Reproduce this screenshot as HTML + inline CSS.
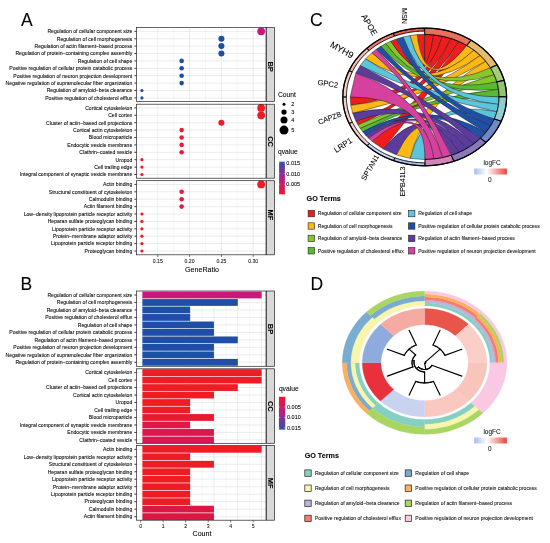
<!DOCTYPE html>
<html><head><meta charset="utf-8"><title>GO enrichment figure</title>
<style>html,body{margin:0;padding:0;background:#fff}svg{display:block}text{font-family:'Liberation Sans', sans-serif;stroke:#000;stroke-width:0.12px;stroke-opacity:0.6}</style></head>
<body><svg width="550" height="543" viewBox="0 0 550 543">
<rect width="550" height="543" fill="#fff"/>
<text x="20.90" y="25.90" font-size="17.5" text-anchor="start" font-weight="normal" fill="#000">A</text>
<text x="20.40" y="289.70" font-size="17.5" text-anchor="start" font-weight="normal" fill="#000">B</text>
<text x="309.90" y="26.00" font-size="17.5" text-anchor="start" font-weight="normal" fill="#000">C</text>
<text x="310.40" y="289.70" font-size="17.5" text-anchor="start" font-weight="normal" fill="#000">D</text>
<rect x="136.4" y="27.6" width="129.6" height="74.0" fill="#fff"/>
<line x1="141.90" y1="27.6" x2="141.90" y2="101.6" stroke="#ECECEC" stroke-width="0.4"/>
<line x1="157.80" y1="27.6" x2="157.80" y2="101.6" stroke="#DFDFDF" stroke-width="0.6"/>
<line x1="173.70" y1="27.6" x2="173.70" y2="101.6" stroke="#ECECEC" stroke-width="0.4"/>
<line x1="189.60" y1="27.6" x2="189.60" y2="101.6" stroke="#DFDFDF" stroke-width="0.6"/>
<line x1="205.50" y1="27.6" x2="205.50" y2="101.6" stroke="#ECECEC" stroke-width="0.4"/>
<line x1="221.40" y1="27.6" x2="221.40" y2="101.6" stroke="#DFDFDF" stroke-width="0.6"/>
<line x1="237.30" y1="27.6" x2="237.30" y2="101.6" stroke="#ECECEC" stroke-width="0.4"/>
<line x1="253.20" y1="27.6" x2="253.20" y2="101.6" stroke="#DFDFDF" stroke-width="0.6"/>
<line x1="136.4" y1="31.30" x2="266.0" y2="31.30" stroke="#DFDFDF" stroke-width="0.6"/>
<line x1="134.4" y1="31.30" x2="136.4" y2="31.30" stroke="#111" stroke-width="0.85"/>
<text x="132.30" y="33.10" font-size="5.12" text-anchor="end" font-weight="normal" fill="#000">Regulation of cellular component size</text>
<circle cx="261.15" cy="31.30" r="3.9" fill="#C9177E"/>
<line x1="136.4" y1="38.70" x2="266.0" y2="38.70" stroke="#DFDFDF" stroke-width="0.6"/>
<line x1="134.4" y1="38.70" x2="136.4" y2="38.70" stroke="#111" stroke-width="0.85"/>
<text x="132.30" y="40.50" font-size="5.12" text-anchor="end" font-weight="normal" fill="#000">Regulation of cell morphogenesis</text>
<circle cx="221.40" cy="38.70" r="3.05" fill="#1F4EA6"/>
<line x1="136.4" y1="46.10" x2="266.0" y2="46.10" stroke="#DFDFDF" stroke-width="0.6"/>
<line x1="134.4" y1="46.10" x2="136.4" y2="46.10" stroke="#111" stroke-width="0.85"/>
<text x="132.30" y="47.90" font-size="5.12" text-anchor="end" font-weight="normal" fill="#000">Regulation of actin filament−based process</text>
<circle cx="221.40" cy="46.10" r="3.05" fill="#1F4EA6"/>
<line x1="136.4" y1="53.50" x2="266.0" y2="53.50" stroke="#DFDFDF" stroke-width="0.6"/>
<line x1="134.4" y1="53.50" x2="136.4" y2="53.50" stroke="#111" stroke-width="0.85"/>
<text x="132.30" y="55.30" font-size="5.12" text-anchor="end" font-weight="normal" fill="#000">Regulation of protein−containing complex assembly</text>
<circle cx="221.40" cy="53.50" r="3.05" fill="#1F4EA6"/>
<line x1="136.4" y1="60.90" x2="266.0" y2="60.90" stroke="#DFDFDF" stroke-width="0.6"/>
<line x1="134.4" y1="60.90" x2="136.4" y2="60.90" stroke="#111" stroke-width="0.85"/>
<text x="132.30" y="62.70" font-size="5.12" text-anchor="end" font-weight="normal" fill="#000">Regulation of cell shape</text>
<circle cx="181.65" cy="60.90" r="2.3" fill="#1F4EA6"/>
<line x1="136.4" y1="68.30" x2="266.0" y2="68.30" stroke="#DFDFDF" stroke-width="0.6"/>
<line x1="134.4" y1="68.30" x2="136.4" y2="68.30" stroke="#111" stroke-width="0.85"/>
<text x="132.30" y="70.10" font-size="5.12" text-anchor="end" font-weight="normal" fill="#000">Positive regulation of cellular protein catabolic process</text>
<circle cx="181.65" cy="68.30" r="2.3" fill="#1F4EA6"/>
<line x1="136.4" y1="75.70" x2="266.0" y2="75.70" stroke="#DFDFDF" stroke-width="0.6"/>
<line x1="134.4" y1="75.70" x2="136.4" y2="75.70" stroke="#111" stroke-width="0.85"/>
<text x="132.30" y="77.50" font-size="5.12" text-anchor="end" font-weight="normal" fill="#000">Positive regulation of neuron projection development</text>
<circle cx="181.65" cy="75.70" r="2.3" fill="#1F4EA6"/>
<line x1="136.4" y1="83.10" x2="266.0" y2="83.10" stroke="#DFDFDF" stroke-width="0.6"/>
<line x1="134.4" y1="83.10" x2="136.4" y2="83.10" stroke="#111" stroke-width="0.85"/>
<text x="132.30" y="84.90" font-size="5.12" text-anchor="end" font-weight="normal" fill="#000">Negative regulation of supramolecular fiber organization</text>
<circle cx="181.65" cy="83.10" r="2.3" fill="#1F4EA6"/>
<line x1="136.4" y1="90.50" x2="266.0" y2="90.50" stroke="#DFDFDF" stroke-width="0.6"/>
<line x1="134.4" y1="90.50" x2="136.4" y2="90.50" stroke="#111" stroke-width="0.85"/>
<text x="132.30" y="92.30" font-size="5.12" text-anchor="end" font-weight="normal" fill="#000">Regulation of amyloid−beta clearance</text>
<circle cx="141.90" cy="90.50" r="1.6" fill="#1F4EA6"/>
<line x1="136.4" y1="97.90" x2="266.0" y2="97.90" stroke="#DFDFDF" stroke-width="0.6"/>
<line x1="134.4" y1="97.90" x2="136.4" y2="97.90" stroke="#111" stroke-width="0.85"/>
<text x="132.30" y="99.70" font-size="5.12" text-anchor="end" font-weight="normal" fill="#000">Positive regulation of cholesterol efflux</text>
<circle cx="141.90" cy="97.90" r="1.6" fill="#1F4EA6"/>
<rect x="136.4" y="27.6" width="129.6" height="74.0" fill="none" stroke="#222" stroke-width="0.7"/>
<rect x="266.4" y="27.6" width="8.200000000000045" height="74.0" fill="#D9D9D9" stroke="#222" stroke-width="0.7"/>
<text x="267.80" y="66.60" font-size="7.5" text-anchor="middle" font-weight="bold" fill="#000" transform="rotate(90 267.80 66.60)">BP</text>
<rect x="136.4" y="104.2" width="129.6" height="73.99999999999999" fill="#fff"/>
<line x1="141.90" y1="104.2" x2="141.90" y2="178.2" stroke="#ECECEC" stroke-width="0.4"/>
<line x1="157.80" y1="104.2" x2="157.80" y2="178.2" stroke="#DFDFDF" stroke-width="0.6"/>
<line x1="173.70" y1="104.2" x2="173.70" y2="178.2" stroke="#ECECEC" stroke-width="0.4"/>
<line x1="189.60" y1="104.2" x2="189.60" y2="178.2" stroke="#DFDFDF" stroke-width="0.6"/>
<line x1="205.50" y1="104.2" x2="205.50" y2="178.2" stroke="#ECECEC" stroke-width="0.4"/>
<line x1="221.40" y1="104.2" x2="221.40" y2="178.2" stroke="#DFDFDF" stroke-width="0.6"/>
<line x1="237.30" y1="104.2" x2="237.30" y2="178.2" stroke="#ECECEC" stroke-width="0.4"/>
<line x1="253.20" y1="104.2" x2="253.20" y2="178.2" stroke="#DFDFDF" stroke-width="0.6"/>
<line x1="136.4" y1="107.90" x2="266.0" y2="107.90" stroke="#DFDFDF" stroke-width="0.6"/>
<line x1="134.4" y1="107.90" x2="136.4" y2="107.90" stroke="#111" stroke-width="0.85"/>
<text x="132.30" y="109.70" font-size="5.12" text-anchor="end" font-weight="normal" fill="#000">Cortical cytoskeleton</text>
<circle cx="261.15" cy="107.90" r="3.9" fill="#EE1C25"/>
<line x1="136.4" y1="115.30" x2="266.0" y2="115.30" stroke="#DFDFDF" stroke-width="0.6"/>
<line x1="134.4" y1="115.30" x2="136.4" y2="115.30" stroke="#111" stroke-width="0.85"/>
<text x="132.30" y="117.10" font-size="5.12" text-anchor="end" font-weight="normal" fill="#000">Cell cortex</text>
<circle cx="261.15" cy="115.30" r="3.9" fill="#EE1C25"/>
<line x1="136.4" y1="122.70" x2="266.0" y2="122.70" stroke="#DFDFDF" stroke-width="0.6"/>
<line x1="134.4" y1="122.70" x2="136.4" y2="122.70" stroke="#111" stroke-width="0.85"/>
<text x="132.30" y="124.50" font-size="5.12" text-anchor="end" font-weight="normal" fill="#000">Cluster of actin−based cell projections</text>
<circle cx="221.40" cy="122.70" r="3.05" fill="#EE1C25"/>
<line x1="136.4" y1="130.10" x2="266.0" y2="130.10" stroke="#DFDFDF" stroke-width="0.6"/>
<line x1="134.4" y1="130.10" x2="136.4" y2="130.10" stroke="#111" stroke-width="0.85"/>
<text x="132.30" y="131.90" font-size="5.12" text-anchor="end" font-weight="normal" fill="#000">Cortical actin cytoskeleton</text>
<circle cx="181.65" cy="130.10" r="2.3" fill="#E91B36"/>
<line x1="136.4" y1="137.50" x2="266.0" y2="137.50" stroke="#DFDFDF" stroke-width="0.6"/>
<line x1="134.4" y1="137.50" x2="136.4" y2="137.50" stroke="#111" stroke-width="0.85"/>
<text x="132.30" y="139.30" font-size="5.12" text-anchor="end" font-weight="normal" fill="#000">Blood microparticle</text>
<circle cx="181.65" cy="137.50" r="2.3" fill="#E91B36"/>
<line x1="136.4" y1="144.90" x2="266.0" y2="144.90" stroke="#DFDFDF" stroke-width="0.6"/>
<line x1="134.4" y1="144.90" x2="136.4" y2="144.90" stroke="#111" stroke-width="0.85"/>
<text x="132.30" y="146.70" font-size="5.12" text-anchor="end" font-weight="normal" fill="#000">Endocytic vesicle membrane</text>
<circle cx="181.65" cy="144.90" r="2.3" fill="#E6193F"/>
<line x1="136.4" y1="152.30" x2="266.0" y2="152.30" stroke="#DFDFDF" stroke-width="0.6"/>
<line x1="134.4" y1="152.30" x2="136.4" y2="152.30" stroke="#111" stroke-width="0.85"/>
<text x="132.30" y="154.10" font-size="5.12" text-anchor="end" font-weight="normal" fill="#000">Clathrin−coated vesicle</text>
<circle cx="181.65" cy="152.30" r="2.3" fill="#E6193F"/>
<line x1="136.4" y1="159.70" x2="266.0" y2="159.70" stroke="#DFDFDF" stroke-width="0.6"/>
<line x1="134.4" y1="159.70" x2="136.4" y2="159.70" stroke="#111" stroke-width="0.85"/>
<text x="132.30" y="161.50" font-size="5.12" text-anchor="end" font-weight="normal" fill="#000">Uropod</text>
<circle cx="141.90" cy="159.70" r="1.6" fill="#EE1C25"/>
<line x1="136.4" y1="167.10" x2="266.0" y2="167.10" stroke="#DFDFDF" stroke-width="0.6"/>
<line x1="134.4" y1="167.10" x2="136.4" y2="167.10" stroke="#111" stroke-width="0.85"/>
<text x="132.30" y="168.90" font-size="5.12" text-anchor="end" font-weight="normal" fill="#000">Cell trailing edge</text>
<circle cx="141.90" cy="167.10" r="1.6" fill="#EE1C25"/>
<line x1="136.4" y1="174.50" x2="266.0" y2="174.50" stroke="#DFDFDF" stroke-width="0.6"/>
<line x1="134.4" y1="174.50" x2="136.4" y2="174.50" stroke="#111" stroke-width="0.85"/>
<text x="132.30" y="176.30" font-size="5.12" text-anchor="end" font-weight="normal" fill="#000">Integral component of synaptic vesicle membrane</text>
<circle cx="141.90" cy="174.50" r="1.6" fill="#E91B36"/>
<rect x="136.4" y="104.2" width="129.6" height="73.99999999999999" fill="none" stroke="#222" stroke-width="0.7"/>
<rect x="266.4" y="104.2" width="8.200000000000045" height="73.99999999999999" fill="#D9D9D9" stroke="#222" stroke-width="0.7"/>
<text x="267.80" y="141.60" font-size="7.5" text-anchor="middle" font-weight="bold" fill="#000" transform="rotate(90 267.80 141.60)">CC</text>
<rect x="136.4" y="180.7" width="129.6" height="74.10000000000002" fill="#fff"/>
<line x1="141.90" y1="180.7" x2="141.90" y2="254.8" stroke="#ECECEC" stroke-width="0.4"/>
<line x1="157.80" y1="180.7" x2="157.80" y2="254.8" stroke="#DFDFDF" stroke-width="0.6"/>
<line x1="173.70" y1="180.7" x2="173.70" y2="254.8" stroke="#ECECEC" stroke-width="0.4"/>
<line x1="189.60" y1="180.7" x2="189.60" y2="254.8" stroke="#DFDFDF" stroke-width="0.6"/>
<line x1="205.50" y1="180.7" x2="205.50" y2="254.8" stroke="#ECECEC" stroke-width="0.4"/>
<line x1="221.40" y1="180.7" x2="221.40" y2="254.8" stroke="#DFDFDF" stroke-width="0.6"/>
<line x1="237.30" y1="180.7" x2="237.30" y2="254.8" stroke="#ECECEC" stroke-width="0.4"/>
<line x1="253.20" y1="180.7" x2="253.20" y2="254.8" stroke="#DFDFDF" stroke-width="0.6"/>
<line x1="136.4" y1="184.40" x2="266.0" y2="184.40" stroke="#DFDFDF" stroke-width="0.6"/>
<line x1="134.4" y1="184.40" x2="136.4" y2="184.40" stroke="#111" stroke-width="0.85"/>
<text x="132.30" y="186.20" font-size="5.12" text-anchor="end" font-weight="normal" fill="#000">Actin binding</text>
<circle cx="261.15" cy="184.40" r="3.9" fill="#EE1C25"/>
<line x1="136.4" y1="191.80" x2="266.0" y2="191.80" stroke="#DFDFDF" stroke-width="0.6"/>
<line x1="134.4" y1="191.80" x2="136.4" y2="191.80" stroke="#111" stroke-width="0.85"/>
<text x="132.30" y="193.60" font-size="5.12" text-anchor="end" font-weight="normal" fill="#000">Structural constituent of cytoskeleton</text>
<circle cx="181.65" cy="191.80" r="2.3" fill="#E91B36"/>
<line x1="136.4" y1="199.20" x2="266.0" y2="199.20" stroke="#DFDFDF" stroke-width="0.6"/>
<line x1="134.4" y1="199.20" x2="136.4" y2="199.20" stroke="#111" stroke-width="0.85"/>
<text x="132.30" y="201.00" font-size="5.12" text-anchor="end" font-weight="normal" fill="#000">Calmodulin binding</text>
<circle cx="181.65" cy="199.20" r="2.3" fill="#E6193F"/>
<line x1="136.4" y1="206.60" x2="266.0" y2="206.60" stroke="#DFDFDF" stroke-width="0.6"/>
<line x1="134.4" y1="206.60" x2="136.4" y2="206.60" stroke="#111" stroke-width="0.85"/>
<text x="132.30" y="208.40" font-size="5.12" text-anchor="end" font-weight="normal" fill="#000">Actin filament binding</text>
<circle cx="181.65" cy="206.60" r="2.3" fill="#E6193F"/>
<line x1="136.4" y1="214.00" x2="266.0" y2="214.00" stroke="#DFDFDF" stroke-width="0.6"/>
<line x1="134.4" y1="214.00" x2="136.4" y2="214.00" stroke="#111" stroke-width="0.85"/>
<text x="132.30" y="215.80" font-size="5.12" text-anchor="end" font-weight="normal" fill="#000">Low−density lipoprotein particle receptor activity</text>
<circle cx="141.90" cy="214.00" r="1.6" fill="#EE1C25"/>
<line x1="136.4" y1="221.40" x2="266.0" y2="221.40" stroke="#DFDFDF" stroke-width="0.6"/>
<line x1="134.4" y1="221.40" x2="136.4" y2="221.40" stroke="#111" stroke-width="0.85"/>
<text x="132.30" y="223.20" font-size="5.12" text-anchor="end" font-weight="normal" fill="#000">Heparan sulfate proteoglycan binding</text>
<circle cx="141.90" cy="221.40" r="1.6" fill="#EE1C25"/>
<line x1="136.4" y1="228.80" x2="266.0" y2="228.80" stroke="#DFDFDF" stroke-width="0.6"/>
<line x1="134.4" y1="228.80" x2="136.4" y2="228.80" stroke="#111" stroke-width="0.85"/>
<text x="132.30" y="230.60" font-size="5.12" text-anchor="end" font-weight="normal" fill="#000">Lipoprotein particle receptor activity</text>
<circle cx="141.90" cy="228.80" r="1.6" fill="#EE1C25"/>
<line x1="136.4" y1="236.20" x2="266.0" y2="236.20" stroke="#DFDFDF" stroke-width="0.6"/>
<line x1="134.4" y1="236.20" x2="136.4" y2="236.20" stroke="#111" stroke-width="0.85"/>
<text x="132.30" y="238.00" font-size="5.12" text-anchor="end" font-weight="normal" fill="#000">Protein−membrane adaptor activity</text>
<circle cx="141.90" cy="236.20" r="1.6" fill="#EE1C25"/>
<line x1="136.4" y1="243.60" x2="266.0" y2="243.60" stroke="#DFDFDF" stroke-width="0.6"/>
<line x1="134.4" y1="243.60" x2="136.4" y2="243.60" stroke="#111" stroke-width="0.85"/>
<text x="132.30" y="245.40" font-size="5.12" text-anchor="end" font-weight="normal" fill="#000">Lipoprotein particle receptor binding</text>
<circle cx="141.90" cy="243.60" r="1.6" fill="#EE1C25"/>
<line x1="136.4" y1="251.00" x2="266.0" y2="251.00" stroke="#DFDFDF" stroke-width="0.6"/>
<line x1="134.4" y1="251.00" x2="136.4" y2="251.00" stroke="#111" stroke-width="0.85"/>
<text x="132.30" y="252.80" font-size="5.12" text-anchor="end" font-weight="normal" fill="#000">Proteoglycan binding</text>
<circle cx="141.90" cy="251.00" r="1.6" fill="#EE1C25"/>
<rect x="136.4" y="180.7" width="129.6" height="74.10000000000002" fill="none" stroke="#222" stroke-width="0.7"/>
<rect x="266.4" y="180.7" width="8.200000000000045" height="74.10000000000002" fill="#D9D9D9" stroke="#222" stroke-width="0.7"/>
<text x="267.80" y="214.90" font-size="7.5" text-anchor="middle" font-weight="bold" fill="#000" transform="rotate(90 267.80 214.90)">MF</text>
<line x1="157.80" y1="254.8" x2="157.80" y2="257" stroke="#222" stroke-width="0.6"/>
<text x="157.80" y="262.90" font-size="5.12" text-anchor="middle" font-weight="normal" fill="#222">0.15</text>
<line x1="189.60" y1="254.8" x2="189.60" y2="257" stroke="#222" stroke-width="0.6"/>
<text x="189.60" y="262.90" font-size="5.12" text-anchor="middle" font-weight="normal" fill="#222">0.20</text>
<line x1="221.40" y1="254.8" x2="221.40" y2="257" stroke="#222" stroke-width="0.6"/>
<text x="221.40" y="262.90" font-size="5.12" text-anchor="middle" font-weight="normal" fill="#222">0.25</text>
<line x1="253.20" y1="254.8" x2="253.20" y2="257" stroke="#222" stroke-width="0.6"/>
<text x="253.20" y="262.90" font-size="5.12" text-anchor="middle" font-weight="normal" fill="#222">0.30</text>
<text x="202.00" y="271.50" font-size="7.1" text-anchor="middle" font-weight="normal" fill="#000">GeneRatio</text>
<text x="278.00" y="96.60" font-size="6.7" text-anchor="start" font-weight="normal" fill="#000">Count</text>
<circle cx="284" cy="104.3" r="1.5" fill="#000"/>
<text x="291.20" y="106.30" font-size="5.5" text-anchor="start" font-weight="normal" fill="#000">2</text>
<circle cx="284" cy="112.1" r="2.6" fill="#000"/>
<text x="291.20" y="114.10" font-size="5.5" text-anchor="start" font-weight="normal" fill="#000">3</text>
<circle cx="284" cy="120.0" r="3.5" fill="#000"/>
<text x="291.20" y="122.00" font-size="5.5" text-anchor="start" font-weight="normal" fill="#000">4</text>
<circle cx="284" cy="130.1" r="4.5" fill="#000"/>
<text x="291.20" y="132.10" font-size="5.5" text-anchor="start" font-weight="normal" fill="#000">5</text>
<text x="278.00" y="154.30" font-size="6.7" text-anchor="start" font-weight="normal" fill="#000">qvalue</text>
<defs><linearGradient id="gA" x1="0" y1="0" x2="0" y2="1"><stop offset="0" stop-color="#2B52A8"/><stop offset="0.5" stop-color="#B0208C"/><stop offset="1" stop-color="#F01828"/></linearGradient><linearGradient id="gB" x1="0" y1="0" x2="0" y2="1"><stop offset="0" stop-color="#F01828"/><stop offset="0.5" stop-color="#B0208C"/><stop offset="1" stop-color="#2B52A8"/></linearGradient><linearGradient id="gL" x1="0" y1="0" x2="1" y2="0"><stop offset="0" stop-color="#A3BDF0"/><stop offset="0.38" stop-color="#FFFFFF"/><stop offset="1" stop-color="#E8463A"/></linearGradient></defs>
<rect x="279.1" y="161.7" width="5.8" height="32.6" fill="url(#gA)"/>
<line x1="279.1" y1="163.0" x2="280.3" y2="163.0" stroke="#fff" stroke-width="0.4"/><line x1="283.7" y1="163.0" x2="284.9" y2="163.0" stroke="#fff" stroke-width="0.4"/>
<text x="286.30" y="165.00" font-size="5.5" text-anchor="start" font-weight="normal" fill="#000">0.015</text>
<line x1="279.1" y1="173.5" x2="280.3" y2="173.5" stroke="#fff" stroke-width="0.4"/><line x1="283.7" y1="173.5" x2="284.9" y2="173.5" stroke="#fff" stroke-width="0.4"/>
<text x="286.30" y="175.50" font-size="5.5" text-anchor="start" font-weight="normal" fill="#000">0.010</text>
<line x1="279.1" y1="184.2" x2="280.3" y2="184.2" stroke="#fff" stroke-width="0.4"/><line x1="283.7" y1="184.2" x2="284.9" y2="184.2" stroke="#fff" stroke-width="0.4"/>
<text x="286.30" y="186.20" font-size="5.5" text-anchor="start" font-weight="normal" fill="#000">0.005</text>
<rect x="136.4" y="291.0" width="129.6" height="75.30000000000001" fill="#fff"/>
<line x1="142.40" y1="291.0" x2="142.40" y2="366.3" stroke="#DFDFDF" stroke-width="0.6"/>
<line x1="154.32" y1="291.0" x2="154.32" y2="366.3" stroke="#ECECEC" stroke-width="0.4"/>
<line x1="166.24" y1="291.0" x2="166.24" y2="366.3" stroke="#DFDFDF" stroke-width="0.6"/>
<line x1="178.16" y1="291.0" x2="178.16" y2="366.3" stroke="#ECECEC" stroke-width="0.4"/>
<line x1="190.08" y1="291.0" x2="190.08" y2="366.3" stroke="#DFDFDF" stroke-width="0.6"/>
<line x1="202.00" y1="291.0" x2="202.00" y2="366.3" stroke="#ECECEC" stroke-width="0.4"/>
<line x1="213.92" y1="291.0" x2="213.92" y2="366.3" stroke="#DFDFDF" stroke-width="0.6"/>
<line x1="225.84" y1="291.0" x2="225.84" y2="366.3" stroke="#ECECEC" stroke-width="0.4"/>
<line x1="237.76" y1="291.0" x2="237.76" y2="366.3" stroke="#DFDFDF" stroke-width="0.6"/>
<line x1="249.68" y1="291.0" x2="249.68" y2="366.3" stroke="#ECECEC" stroke-width="0.4"/>
<line x1="261.60" y1="291.0" x2="261.60" y2="366.3" stroke="#DFDFDF" stroke-width="0.6"/>
<line x1="136.4" y1="295.00" x2="266.0" y2="295.00" stroke="#DFDFDF" stroke-width="0.6"/>
<line x1="134.4" y1="295.00" x2="136.4" y2="295.00" stroke="#111" stroke-width="0.85"/>
<text x="132.30" y="296.80" font-size="5.12" text-anchor="end" font-weight="normal" fill="#000">Regulation of cellular component size</text>
<rect x="142.4" y="291.60" width="119.25" height="6.8" fill="#C9177E"/>
<line x1="136.4" y1="302.48" x2="266.0" y2="302.48" stroke="#DFDFDF" stroke-width="0.6"/>
<line x1="134.4" y1="302.48" x2="136.4" y2="302.48" stroke="#111" stroke-width="0.85"/>
<text x="132.30" y="304.28" font-size="5.12" text-anchor="end" font-weight="normal" fill="#000">Regulation of cell morphogenesis</text>
<rect x="142.4" y="299.08" width="95.40" height="6.8" fill="#1F4EA6"/>
<line x1="136.4" y1="309.96" x2="266.0" y2="309.96" stroke="#DFDFDF" stroke-width="0.6"/>
<line x1="134.4" y1="309.96" x2="136.4" y2="309.96" stroke="#111" stroke-width="0.85"/>
<text x="132.30" y="311.76" font-size="5.12" text-anchor="end" font-weight="normal" fill="#000">Regulation of amyloid−beta clearance</text>
<rect x="142.4" y="306.56" width="47.70" height="6.8" fill="#1F4EA6"/>
<line x1="136.4" y1="317.44" x2="266.0" y2="317.44" stroke="#DFDFDF" stroke-width="0.6"/>
<line x1="134.4" y1="317.44" x2="136.4" y2="317.44" stroke="#111" stroke-width="0.85"/>
<text x="132.30" y="319.24" font-size="5.12" text-anchor="end" font-weight="normal" fill="#000">Positive regulation of cholesterol efflux</text>
<rect x="142.4" y="314.04" width="47.70" height="6.8" fill="#1F4EA6"/>
<line x1="136.4" y1="324.92" x2="266.0" y2="324.92" stroke="#DFDFDF" stroke-width="0.6"/>
<line x1="134.4" y1="324.92" x2="136.4" y2="324.92" stroke="#111" stroke-width="0.85"/>
<text x="132.30" y="326.72" font-size="5.12" text-anchor="end" font-weight="normal" fill="#000">Regulation of cell shape</text>
<rect x="142.4" y="321.52" width="71.55" height="6.8" fill="#1F4EA6"/>
<line x1="136.4" y1="332.40" x2="266.0" y2="332.40" stroke="#DFDFDF" stroke-width="0.6"/>
<line x1="134.4" y1="332.40" x2="136.4" y2="332.40" stroke="#111" stroke-width="0.85"/>
<text x="132.30" y="334.20" font-size="5.12" text-anchor="end" font-weight="normal" fill="#000">Positive regulation of cellular protein catabolic process</text>
<rect x="142.4" y="329.00" width="71.55" height="6.8" fill="#1F4EA6"/>
<line x1="136.4" y1="339.88" x2="266.0" y2="339.88" stroke="#DFDFDF" stroke-width="0.6"/>
<line x1="134.4" y1="339.88" x2="136.4" y2="339.88" stroke="#111" stroke-width="0.85"/>
<text x="132.30" y="341.68" font-size="5.12" text-anchor="end" font-weight="normal" fill="#000">Regulation of actin filament−based process</text>
<rect x="142.4" y="336.48" width="95.40" height="6.8" fill="#1F4EA6"/>
<line x1="136.4" y1="347.36" x2="266.0" y2="347.36" stroke="#DFDFDF" stroke-width="0.6"/>
<line x1="134.4" y1="347.36" x2="136.4" y2="347.36" stroke="#111" stroke-width="0.85"/>
<text x="132.30" y="349.16" font-size="5.12" text-anchor="end" font-weight="normal" fill="#000">Positive regulation of neuron projection development</text>
<rect x="142.4" y="343.96" width="71.55" height="6.8" fill="#1F4EA6"/>
<line x1="136.4" y1="354.84" x2="266.0" y2="354.84" stroke="#DFDFDF" stroke-width="0.6"/>
<line x1="134.4" y1="354.84" x2="136.4" y2="354.84" stroke="#111" stroke-width="0.85"/>
<text x="132.30" y="356.64" font-size="5.12" text-anchor="end" font-weight="normal" fill="#000">Negative regulation of supramolecular fiber organization</text>
<rect x="142.4" y="351.44" width="71.55" height="6.8" fill="#1F4EA6"/>
<line x1="136.4" y1="362.32" x2="266.0" y2="362.32" stroke="#DFDFDF" stroke-width="0.6"/>
<line x1="134.4" y1="362.32" x2="136.4" y2="362.32" stroke="#111" stroke-width="0.85"/>
<text x="132.30" y="364.12" font-size="5.12" text-anchor="end" font-weight="normal" fill="#000">Regulation of protein−containing complex assembly</text>
<rect x="142.4" y="358.92" width="95.40" height="6.8" fill="#1F4EA6"/>
<rect x="136.4" y="291.0" width="129.6" height="75.30000000000001" fill="none" stroke="#222" stroke-width="0.7"/>
<rect x="266.4" y="291.0" width="8.200000000000045" height="75.30000000000001" fill="#D9D9D9" stroke="#222" stroke-width="0.7"/>
<text x="267.80" y="328.95" font-size="7.5" text-anchor="middle" font-weight="bold" fill="#000" transform="rotate(90 267.80 328.95)">BP</text>
<rect x="136.4" y="368.8" width="129.6" height="74.5" fill="#fff"/>
<line x1="142.40" y1="368.8" x2="142.40" y2="443.3" stroke="#DFDFDF" stroke-width="0.6"/>
<line x1="154.32" y1="368.8" x2="154.32" y2="443.3" stroke="#ECECEC" stroke-width="0.4"/>
<line x1="166.24" y1="368.8" x2="166.24" y2="443.3" stroke="#DFDFDF" stroke-width="0.6"/>
<line x1="178.16" y1="368.8" x2="178.16" y2="443.3" stroke="#ECECEC" stroke-width="0.4"/>
<line x1="190.08" y1="368.8" x2="190.08" y2="443.3" stroke="#DFDFDF" stroke-width="0.6"/>
<line x1="202.00" y1="368.8" x2="202.00" y2="443.3" stroke="#ECECEC" stroke-width="0.4"/>
<line x1="213.92" y1="368.8" x2="213.92" y2="443.3" stroke="#DFDFDF" stroke-width="0.6"/>
<line x1="225.84" y1="368.8" x2="225.84" y2="443.3" stroke="#ECECEC" stroke-width="0.4"/>
<line x1="237.76" y1="368.8" x2="237.76" y2="443.3" stroke="#DFDFDF" stroke-width="0.6"/>
<line x1="249.68" y1="368.8" x2="249.68" y2="443.3" stroke="#ECECEC" stroke-width="0.4"/>
<line x1="261.60" y1="368.8" x2="261.60" y2="443.3" stroke="#DFDFDF" stroke-width="0.6"/>
<line x1="136.4" y1="372.60" x2="266.0" y2="372.60" stroke="#DFDFDF" stroke-width="0.6"/>
<line x1="134.4" y1="372.60" x2="136.4" y2="372.60" stroke="#111" stroke-width="0.85"/>
<text x="132.30" y="374.40" font-size="5.12" text-anchor="end" font-weight="normal" fill="#000">Cortical cytoskeleton</text>
<rect x="142.4" y="369.20" width="119.25" height="6.8" fill="#EE1C25"/>
<line x1="136.4" y1="380.08" x2="266.0" y2="380.08" stroke="#DFDFDF" stroke-width="0.6"/>
<line x1="134.4" y1="380.08" x2="136.4" y2="380.08" stroke="#111" stroke-width="0.85"/>
<text x="132.30" y="381.88" font-size="5.12" text-anchor="end" font-weight="normal" fill="#000">Cell cortex</text>
<rect x="142.4" y="376.68" width="119.25" height="6.8" fill="#EE1C25"/>
<line x1="136.4" y1="387.56" x2="266.0" y2="387.56" stroke="#DFDFDF" stroke-width="0.6"/>
<line x1="134.4" y1="387.56" x2="136.4" y2="387.56" stroke="#111" stroke-width="0.85"/>
<text x="132.30" y="389.36" font-size="5.12" text-anchor="end" font-weight="normal" fill="#000">Cluster of actin−based cell projections</text>
<rect x="142.4" y="384.16" width="95.40" height="6.8" fill="#EE1C25"/>
<line x1="136.4" y1="395.04" x2="266.0" y2="395.04" stroke="#DFDFDF" stroke-width="0.6"/>
<line x1="134.4" y1="395.04" x2="136.4" y2="395.04" stroke="#111" stroke-width="0.85"/>
<text x="132.30" y="396.84" font-size="5.12" text-anchor="end" font-weight="normal" fill="#000">Cortical actin cytoskeleton</text>
<rect x="142.4" y="391.64" width="71.55" height="6.8" fill="#EE1C25"/>
<line x1="136.4" y1="402.52" x2="266.0" y2="402.52" stroke="#DFDFDF" stroke-width="0.6"/>
<line x1="134.4" y1="402.52" x2="136.4" y2="402.52" stroke="#111" stroke-width="0.85"/>
<text x="132.30" y="404.32" font-size="5.12" text-anchor="end" font-weight="normal" fill="#000">Uropod</text>
<rect x="142.4" y="399.12" width="47.70" height="6.8" fill="#EE1C25"/>
<line x1="136.4" y1="410.00" x2="266.0" y2="410.00" stroke="#DFDFDF" stroke-width="0.6"/>
<line x1="134.4" y1="410.00" x2="136.4" y2="410.00" stroke="#111" stroke-width="0.85"/>
<text x="132.30" y="411.80" font-size="5.12" text-anchor="end" font-weight="normal" fill="#000">Cell trailing edge</text>
<rect x="142.4" y="406.60" width="47.70" height="6.8" fill="#EE1C25"/>
<line x1="136.4" y1="417.48" x2="266.0" y2="417.48" stroke="#DFDFDF" stroke-width="0.6"/>
<line x1="134.4" y1="417.48" x2="136.4" y2="417.48" stroke="#111" stroke-width="0.85"/>
<text x="132.30" y="419.28" font-size="5.12" text-anchor="end" font-weight="normal" fill="#000">Blood microparticle</text>
<rect x="142.4" y="414.08" width="71.55" height="6.8" fill="#E81A2E"/>
<line x1="136.4" y1="424.96" x2="266.0" y2="424.96" stroke="#DFDFDF" stroke-width="0.6"/>
<line x1="134.4" y1="424.96" x2="136.4" y2="424.96" stroke="#111" stroke-width="0.85"/>
<text x="132.30" y="426.76" font-size="5.12" text-anchor="end" font-weight="normal" fill="#000">Integral component of synaptic vesicle membrane</text>
<rect x="142.4" y="421.56" width="47.70" height="6.8" fill="#DF1846"/>
<line x1="136.4" y1="432.44" x2="266.0" y2="432.44" stroke="#DFDFDF" stroke-width="0.6"/>
<line x1="134.4" y1="432.44" x2="136.4" y2="432.44" stroke="#111" stroke-width="0.85"/>
<text x="132.30" y="434.24" font-size="5.12" text-anchor="end" font-weight="normal" fill="#000">Endocytic vesicle membrane</text>
<rect x="142.4" y="429.04" width="71.55" height="6.8" fill="#D91850"/>
<line x1="136.4" y1="439.92" x2="266.0" y2="439.92" stroke="#DFDFDF" stroke-width="0.6"/>
<line x1="134.4" y1="439.92" x2="136.4" y2="439.92" stroke="#111" stroke-width="0.85"/>
<text x="132.30" y="441.72" font-size="5.12" text-anchor="end" font-weight="normal" fill="#000">Clathrin−coated vesicle</text>
<rect x="142.4" y="436.52" width="71.55" height="6.8" fill="#D91850"/>
<rect x="136.4" y="368.8" width="129.6" height="74.5" fill="none" stroke="#222" stroke-width="0.7"/>
<rect x="266.4" y="368.8" width="8.200000000000045" height="74.5" fill="#D9D9D9" stroke="#222" stroke-width="0.7"/>
<text x="267.80" y="406.35" font-size="7.5" text-anchor="middle" font-weight="bold" fill="#000" transform="rotate(90 267.80 406.35)">CC</text>
<rect x="136.4" y="445.4" width="129.6" height="74.80000000000007" fill="#fff"/>
<line x1="142.40" y1="445.4" x2="142.40" y2="520.2" stroke="#DFDFDF" stroke-width="0.6"/>
<line x1="154.32" y1="445.4" x2="154.32" y2="520.2" stroke="#ECECEC" stroke-width="0.4"/>
<line x1="166.24" y1="445.4" x2="166.24" y2="520.2" stroke="#DFDFDF" stroke-width="0.6"/>
<line x1="178.16" y1="445.4" x2="178.16" y2="520.2" stroke="#ECECEC" stroke-width="0.4"/>
<line x1="190.08" y1="445.4" x2="190.08" y2="520.2" stroke="#DFDFDF" stroke-width="0.6"/>
<line x1="202.00" y1="445.4" x2="202.00" y2="520.2" stroke="#ECECEC" stroke-width="0.4"/>
<line x1="213.92" y1="445.4" x2="213.92" y2="520.2" stroke="#DFDFDF" stroke-width="0.6"/>
<line x1="225.84" y1="445.4" x2="225.84" y2="520.2" stroke="#ECECEC" stroke-width="0.4"/>
<line x1="237.76" y1="445.4" x2="237.76" y2="520.2" stroke="#DFDFDF" stroke-width="0.6"/>
<line x1="249.68" y1="445.4" x2="249.68" y2="520.2" stroke="#ECECEC" stroke-width="0.4"/>
<line x1="261.60" y1="445.4" x2="261.60" y2="520.2" stroke="#DFDFDF" stroke-width="0.6"/>
<line x1="136.4" y1="449.30" x2="266.0" y2="449.30" stroke="#DFDFDF" stroke-width="0.6"/>
<line x1="134.4" y1="449.30" x2="136.4" y2="449.30" stroke="#111" stroke-width="0.85"/>
<text x="132.30" y="451.10" font-size="5.12" text-anchor="end" font-weight="normal" fill="#000">Actin binding</text>
<rect x="142.4" y="445.90" width="119.25" height="6.8" fill="#EE1C25"/>
<line x1="136.4" y1="456.78" x2="266.0" y2="456.78" stroke="#DFDFDF" stroke-width="0.6"/>
<line x1="134.4" y1="456.78" x2="136.4" y2="456.78" stroke="#111" stroke-width="0.85"/>
<text x="132.30" y="458.58" font-size="5.12" text-anchor="end" font-weight="normal" fill="#000">Low−density lipoprotein particle receptor activity</text>
<rect x="142.4" y="453.38" width="47.70" height="6.8" fill="#EE1C25"/>
<line x1="136.4" y1="464.26" x2="266.0" y2="464.26" stroke="#DFDFDF" stroke-width="0.6"/>
<line x1="134.4" y1="464.26" x2="136.4" y2="464.26" stroke="#111" stroke-width="0.85"/>
<text x="132.30" y="466.06" font-size="5.12" text-anchor="end" font-weight="normal" fill="#000">Structural constituent of cytoskeleton</text>
<rect x="142.4" y="460.86" width="71.55" height="6.8" fill="#EE1C25"/>
<line x1="136.4" y1="471.74" x2="266.0" y2="471.74" stroke="#DFDFDF" stroke-width="0.6"/>
<line x1="134.4" y1="471.74" x2="136.4" y2="471.74" stroke="#111" stroke-width="0.85"/>
<text x="132.30" y="473.54" font-size="5.12" text-anchor="end" font-weight="normal" fill="#000">Heparan sulfate proteoglycan binding</text>
<rect x="142.4" y="468.34" width="47.70" height="6.8" fill="#EE1C25"/>
<line x1="136.4" y1="479.22" x2="266.0" y2="479.22" stroke="#DFDFDF" stroke-width="0.6"/>
<line x1="134.4" y1="479.22" x2="136.4" y2="479.22" stroke="#111" stroke-width="0.85"/>
<text x="132.30" y="481.02" font-size="5.12" text-anchor="end" font-weight="normal" fill="#000">Lipoprotein particle receptor activity</text>
<rect x="142.4" y="475.82" width="47.70" height="6.8" fill="#EE1C25"/>
<line x1="136.4" y1="486.70" x2="266.0" y2="486.70" stroke="#DFDFDF" stroke-width="0.6"/>
<line x1="134.4" y1="486.70" x2="136.4" y2="486.70" stroke="#111" stroke-width="0.85"/>
<text x="132.30" y="488.50" font-size="5.12" text-anchor="end" font-weight="normal" fill="#000">Protein−membrane adaptor activity</text>
<rect x="142.4" y="483.30" width="47.70" height="6.8" fill="#EE1C25"/>
<line x1="136.4" y1="494.18" x2="266.0" y2="494.18" stroke="#DFDFDF" stroke-width="0.6"/>
<line x1="134.4" y1="494.18" x2="136.4" y2="494.18" stroke="#111" stroke-width="0.85"/>
<text x="132.30" y="495.98" font-size="5.12" text-anchor="end" font-weight="normal" fill="#000">Lipoprotein particle receptor binding</text>
<rect x="142.4" y="490.78" width="47.70" height="6.8" fill="#EE1C25"/>
<line x1="136.4" y1="501.66" x2="266.0" y2="501.66" stroke="#DFDFDF" stroke-width="0.6"/>
<line x1="134.4" y1="501.66" x2="136.4" y2="501.66" stroke="#111" stroke-width="0.85"/>
<text x="132.30" y="503.46" font-size="5.12" text-anchor="end" font-weight="normal" fill="#000">Proteoglycan binding</text>
<rect x="142.4" y="498.26" width="47.70" height="6.8" fill="#EE1C25"/>
<line x1="136.4" y1="509.14" x2="266.0" y2="509.14" stroke="#DFDFDF" stroke-width="0.6"/>
<line x1="134.4" y1="509.14" x2="136.4" y2="509.14" stroke="#111" stroke-width="0.85"/>
<text x="132.30" y="510.94" font-size="5.12" text-anchor="end" font-weight="normal" fill="#000">Calmodulin binding</text>
<rect x="142.4" y="505.74" width="71.55" height="6.8" fill="#DC1842"/>
<line x1="136.4" y1="516.62" x2="266.0" y2="516.62" stroke="#DFDFDF" stroke-width="0.6"/>
<line x1="134.4" y1="516.62" x2="136.4" y2="516.62" stroke="#111" stroke-width="0.85"/>
<text x="132.30" y="518.42" font-size="5.12" text-anchor="end" font-weight="normal" fill="#000">Actin filament binding</text>
<rect x="142.4" y="513.22" width="71.55" height="6.8" fill="#DC1842"/>
<rect x="136.4" y="445.4" width="129.6" height="74.80000000000007" fill="none" stroke="#222" stroke-width="0.7"/>
<rect x="266.4" y="445.4" width="8.200000000000045" height="74.80000000000007" fill="#D9D9D9" stroke="#222" stroke-width="0.7"/>
<text x="267.80" y="483.10" font-size="7.5" text-anchor="middle" font-weight="bold" fill="#000" transform="rotate(90 267.80 483.10)">MF</text>
<line x1="140.70" y1="520.2" x2="140.70" y2="522.5" stroke="#222" stroke-width="0.6"/>
<text x="140.70" y="528.30" font-size="5.12" text-anchor="middle" font-weight="normal" fill="#222">0</text>
<line x1="163.20" y1="520.2" x2="163.20" y2="522.5" stroke="#222" stroke-width="0.6"/>
<text x="163.20" y="528.30" font-size="5.12" text-anchor="middle" font-weight="normal" fill="#222">1</text>
<line x1="185.70" y1="520.2" x2="185.70" y2="522.5" stroke="#222" stroke-width="0.6"/>
<text x="185.70" y="528.30" font-size="5.12" text-anchor="middle" font-weight="normal" fill="#222">2</text>
<line x1="208.20" y1="520.2" x2="208.20" y2="522.5" stroke="#222" stroke-width="0.6"/>
<text x="208.20" y="528.30" font-size="5.12" text-anchor="middle" font-weight="normal" fill="#222">3</text>
<line x1="230.70" y1="520.2" x2="230.70" y2="522.5" stroke="#222" stroke-width="0.6"/>
<text x="230.70" y="528.30" font-size="5.12" text-anchor="middle" font-weight="normal" fill="#222">4</text>
<line x1="253.20" y1="520.2" x2="253.20" y2="522.5" stroke="#222" stroke-width="0.6"/>
<text x="253.20" y="528.30" font-size="5.12" text-anchor="middle" font-weight="normal" fill="#222">5</text>
<text x="202.00" y="536.20" font-size="7.1" text-anchor="middle" font-weight="normal" fill="#000">Count</text>
<text x="278.90" y="391.40" font-size="6.7" text-anchor="start" font-weight="normal" fill="#000">qvalue</text>
<rect x="278.9" y="396.8" width="6.4" height="32.8" fill="url(#gB)"/>
<line x1="278.9" y1="407.0" x2="280.2" y2="407.0" stroke="#fff" stroke-width="0.4"/><line x1="284" y1="407.0" x2="285.3" y2="407.0" stroke="#fff" stroke-width="0.4"/>
<text x="287.00" y="409.00" font-size="5.5" text-anchor="start" font-weight="normal" fill="#000">0.005</text>
<line x1="278.9" y1="417.4" x2="280.2" y2="417.4" stroke="#fff" stroke-width="0.4"/><line x1="284" y1="417.4" x2="285.3" y2="417.4" stroke="#fff" stroke-width="0.4"/>
<text x="287.00" y="419.40" font-size="5.5" text-anchor="start" font-weight="normal" fill="#000">0.010</text>
<line x1="278.9" y1="427.7" x2="280.2" y2="427.7" stroke="#fff" stroke-width="0.4"/><line x1="284" y1="427.7" x2="285.3" y2="427.7" stroke="#fff" stroke-width="0.4"/>
<text x="287.00" y="429.70" font-size="5.5" text-anchor="start" font-weight="normal" fill="#000">0.015</text>
<g stroke="#151515" stroke-width="0.45" stroke-linejoin="round">
<path d="M424.70,34.30 Q424.7,96.95 424.40,34.30 L417.17,34.62 Q424.7,96.95 433.63,34.75 Z" fill="#EE1C1C"/>
<path d="M433.63,34.75 Q424.7,96.95 395.90,39.17 L390.64,41.22 Q424.7,96.95 442.42,36.10 Z" fill="#EE1C1C"/>
<path d="M442.42,36.10 Q424.7,96.95 350.15,97.20 L350.82,105.29 Q424.7,96.95 450.97,38.32 Z" fill="#EE1C1C"/>
<path d="M450.97,38.32 Q424.7,96.95 355.94,121.16 L357.95,124.85 Q424.7,96.95 459.13,41.38 Z" fill="#EE1C1C"/>
<path d="M459.13,41.38 Q424.7,96.95 372.20,141.43 L383.41,149.11 Q424.7,96.95 466.80,45.25 Z" fill="#EE1C1C"/>
<path d="M467.05,45.39 Q424.7,96.95 417.17,34.62 L410.01,35.53 Q424.7,96.95 474.08,50.01 Z" fill="#FCB814"/>
<path d="M474.08,50.01 Q424.7,96.95 371.78,52.83 L365.44,58.94 Q424.7,96.95 480.40,55.31 Z" fill="#FCB814"/>
<path d="M480.40,55.31 Q424.7,96.95 350.82,105.29 L352.72,113.25 Q424.7,96.95 485.92,61.21 Z" fill="#FCB814"/>
<path d="M485.92,61.21 Q424.7,96.95 396.45,154.93 L410.30,158.42 Q424.7,96.95 490.57,67.61 Z" fill="#FCB814"/>
<path d="M490.71,67.84 Q424.7,96.95 390.64,41.22 L385.60,43.61 Q424.7,96.95 494.35,74.62 Z" fill="#86C82C"/>
<path d="M494.35,74.62 Q424.7,96.95 357.95,124.85 L360.24,128.42 Q424.7,96.95 497.01,81.71 Z" fill="#86C82C"/>
<path d="M497.08,81.96 Q424.7,96.95 385.60,43.61 L380.79,46.32 Q424.7,96.95 498.69,89.27 Z" fill="#58BA32"/>
<path d="M498.69,89.27 Q424.7,96.95 360.24,128.42 L362.80,131.86 Q424.7,96.95 499.25,96.70 Z" fill="#58BA32"/>
<path d="M499.25,96.95 Q424.7,96.95 410.01,35.53 L402.99,37.02 Q424.7,96.95 498.72,104.42 Z" fill="#5BC5DB"/>
<path d="M498.72,104.42 Q424.7,96.95 365.44,58.94 L360.09,65.70 Q424.7,96.95 497.13,111.78 Z" fill="#5BC5DB"/>
<path d="M497.13,111.78 Q424.7,96.95 410.30,158.42 L424.70,159.60 Q424.7,96.95 494.51,118.93 Z" fill="#5BC5DB"/>
<path d="M494.40,119.17 Q424.7,96.95 402.99,37.02 L396.17,39.07 Q424.7,96.95 490.75,125.99 Z" fill="#1F4FA8"/>
<path d="M490.75,125.99 Q424.7,96.95 380.79,46.32 L376.24,49.34 Q424.7,96.95 486.16,132.40 Z" fill="#1F4FA8"/>
<path d="M486.16,132.40 Q424.7,96.95 362.80,131.86 L365.62,135.15 Q424.7,96.95 480.70,138.31 Z" fill="#1F4FA8"/>
<path d="M480.50,138.49 Q424.7,96.95 360.09,65.70 L355.83,72.98 Q424.7,96.95 474.19,143.80 Z" fill="#5B3C9E"/>
<path d="M474.19,143.80 Q424.7,96.95 352.72,113.25 L355.83,120.92 Q424.7,96.95 467.17,148.44 Z" fill="#5B3C9E"/>
<path d="M467.17,148.44 Q424.7,96.95 365.62,135.15 L368.69,138.29 Q424.7,96.95 459.54,152.34 Z" fill="#5B3C9E"/>
<path d="M459.54,152.34 Q424.7,96.95 383.41,149.11 L396.17,154.83 Q424.7,96.95 451.41,155.44 Z" fill="#5B3C9E"/>
<path d="M451.13,155.53 Q424.7,96.95 376.24,49.34 L371.99,52.65 Q424.7,96.95 442.64,157.76 Z" fill="#D6409E"/>
<path d="M442.64,157.76 Q424.7,96.95 355.71,73.21 L350.15,96.95 Q424.7,96.95 433.88,159.12 Z" fill="#D6409E"/>
<path d="M433.88,159.12 Q424.7,96.95 368.69,138.29 L371.99,141.25 Q424.7,96.95 425.00,159.60 Z" fill="#D6409E"/>
</g>
<path d="M424.70,34.55 L426.56,34.57 L428.41,34.63 L430.26,34.73 L432.11,34.86 L433.96,35.04 L435.80,35.25 L437.63,35.50 L439.45,35.79 L441.27,36.12 L443.07,36.49 L444.87,36.90 L446.65,37.34 L448.41,37.82 L450.17,38.34 L451.90,38.89 L453.62,39.48 L455.32,40.10 L457.00,40.77 L458.67,41.46 L460.31,42.19 L461.92,42.96 L463.52,43.76 L465.09,44.59 L466.63,45.45 L470.95,40.15 L469.25,39.20 L467.52,38.28 L465.76,37.40 L463.97,36.55 L462.16,35.75 L460.33,34.98 L458.48,34.25 L456.60,33.56 L454.70,32.91 L452.79,32.30 L450.86,31.73 L448.91,31.20 L446.94,30.71 L444.97,30.26 L442.98,29.86 L440.97,29.50 L438.96,29.17 L436.94,28.90 L434.91,28.66 L432.88,28.47 L430.84,28.32 L428.79,28.21 L426.75,28.14 L424.70,28.12Z"  fill="#E6705A" stroke="#000" stroke-width="1.0" stroke-linejoin="miter"/>
<path d="M466.88,45.60 L468.09,46.31 L469.29,47.05 L470.46,47.81 L471.62,48.59 L472.76,49.39 L473.88,50.20 L474.98,51.04 L476.06,51.89 L477.12,52.76 L478.16,53.65 L479.18,54.55 L480.18,55.48 L481.15,56.42 L482.10,57.37 L483.03,58.34 L483.94,59.33 L484.82,60.33 L485.68,61.35 L486.51,62.38 L487.32,63.42 L488.11,64.48 L488.87,65.55 L489.60,66.64 L490.31,67.73 L497.06,64.72 L496.28,63.51 L495.47,62.32 L494.64,61.14 L493.77,59.97 L492.88,58.82 L491.96,57.68 L491.01,56.56 L490.04,55.46 L489.04,54.37 L488.02,53.30 L486.97,52.24 L485.89,51.21 L484.79,50.19 L483.67,49.19 L482.52,48.21 L481.35,47.25 L480.16,46.31 L478.95,45.39 L477.71,44.49 L476.45,43.61 L475.18,42.75 L473.88,41.91 L472.56,41.10 L471.22,40.31Z"  fill="#E6BA6C" stroke="#000" stroke-width="1.0" stroke-linejoin="miter"/>
<path d="M490.45,67.95 L490.78,68.50 L491.12,69.05 L491.44,69.61 L491.76,70.16 L492.07,70.72 L492.38,71.28 L492.68,71.85 L492.97,72.41 L493.26,72.98 L493.53,73.56 L493.81,74.13 L494.07,74.71 L494.33,75.28 L494.58,75.86 L494.83,76.45 L495.07,77.03 L495.30,77.62 L495.52,78.21 L495.74,78.80 L495.95,79.39 L496.15,79.98 L496.35,80.58 L496.54,81.18 L496.72,81.77 L504.14,80.21 L503.94,79.55 L503.73,78.89 L503.51,78.24 L503.29,77.58 L503.06,76.93 L502.82,76.28 L502.57,75.63 L502.31,74.98 L502.05,74.34 L501.78,73.69 L501.50,73.05 L501.22,72.41 L500.92,71.78 L500.62,71.15 L500.32,70.52 L500.00,69.89 L499.68,69.26 L499.35,68.64 L499.01,68.02 L498.67,67.40 L498.32,66.79 L497.96,66.18 L497.59,65.57 L497.22,64.96Z"  fill="#A4CC7C" stroke="#000" stroke-width="1.0" stroke-linejoin="miter"/>
<path d="M496.79,82.02 L496.96,82.62 L497.13,83.22 L497.29,83.82 L497.44,84.43 L497.58,85.03 L497.72,85.64 L497.85,86.25 L497.97,86.86 L498.09,87.47 L498.20,88.08 L498.30,88.69 L498.39,89.30 L498.48,89.92 L498.56,90.53 L498.63,91.15 L498.69,91.76 L498.75,92.38 L498.80,93.00 L498.84,93.61 L498.88,94.23 L498.91,94.85 L498.93,95.46 L498.94,96.08 L498.95,96.70 L506.60,96.67 L506.59,95.99 L506.57,95.31 L506.55,94.63 L506.52,93.95 L506.48,93.27 L506.43,92.59 L506.38,91.91 L506.31,91.23 L506.24,90.55 L506.16,89.87 L506.08,89.19 L505.98,88.52 L505.88,87.84 L505.77,87.17 L505.65,86.49 L505.52,85.82 L505.38,85.15 L505.24,84.48 L505.09,83.81 L504.93,83.14 L504.77,82.47 L504.59,81.81 L504.41,81.14 L504.22,80.48Z"  fill="#92C274" stroke="#000" stroke-width="1.0" stroke-linejoin="miter"/>
<path d="M498.95,96.95 L498.94,97.88 L498.92,98.81 L498.88,99.75 L498.82,100.68 L498.74,101.61 L498.65,102.53 L498.54,103.46 L498.42,104.39 L498.28,105.31 L498.12,106.24 L497.95,107.16 L497.76,108.08 L497.55,108.99 L497.33,109.90 L497.09,110.81 L496.84,111.72 L496.57,112.63 L496.28,113.53 L495.98,114.42 L495.66,115.32 L495.33,116.20 L494.98,117.09 L494.61,117.97 L494.23,118.84 L501.39,121.10 L501.81,120.13 L502.22,119.16 L502.60,118.19 L502.97,117.21 L503.32,116.22 L503.66,115.23 L503.97,114.24 L504.27,113.24 L504.55,112.24 L504.81,111.24 L505.06,110.23 L505.29,109.22 L505.49,108.21 L505.69,107.19 L505.86,106.17 L506.01,105.16 L506.15,104.13 L506.27,103.11 L506.37,102.09 L506.45,101.06 L506.52,100.03 L506.56,99.01 L506.59,97.98 L506.60,96.95Z"  fill="#8FCDD2" stroke="#000" stroke-width="1.0" stroke-linejoin="miter"/>
<path d="M494.12,119.08 L493.72,119.95 L493.31,120.81 L492.88,121.67 L492.43,122.52 L491.97,123.37 L491.49,124.21 L491.00,125.05 L490.49,125.88 L489.97,126.70 L489.43,127.51 L488.88,128.32 L488.32,129.13 L487.74,129.92 L487.15,130.71 L486.54,131.49 L485.92,132.26 L485.28,133.02 L484.64,133.78 L483.98,134.53 L483.30,135.27 L482.61,136.00 L481.91,136.72 L481.20,137.44 L480.47,138.14 L486.22,142.38 L487.02,141.61 L487.81,140.82 L488.58,140.02 L489.34,139.22 L490.08,138.40 L490.81,137.57 L491.52,136.74 L492.22,135.90 L492.91,135.05 L493.58,134.18 L494.23,133.32 L494.87,132.44 L495.49,131.55 L496.10,130.66 L496.69,129.76 L497.27,128.85 L497.83,127.94 L498.37,127.02 L498.90,126.09 L499.40,125.16 L499.90,124.21 L500.37,123.27 L500.83,122.31 L501.28,121.36Z"  fill="#6F88C8" stroke="#000" stroke-width="1.0" stroke-linejoin="miter"/>
<path d="M480.28,138.33 L479.28,139.25 L478.27,140.16 L477.23,141.05 L476.17,141.92 L475.09,142.78 L473.99,143.62 L472.87,144.43 L471.74,145.23 L470.58,146.01 L469.40,146.77 L468.21,147.51 L467.00,148.23 L465.77,148.93 L464.53,149.61 L463.27,150.27 L462.00,150.91 L460.71,151.52 L459.40,152.12 L458.08,152.69 L456.75,153.24 L455.41,153.76 L454.05,154.27 L452.69,154.75 L451.31,155.21 L454.05,161.21 L455.57,160.70 L457.08,160.17 L458.57,159.61 L460.06,159.03 L461.52,158.43 L462.98,157.80 L464.42,157.14 L465.84,156.46 L467.24,155.76 L468.63,155.04 L470.00,154.29 L471.36,153.52 L472.69,152.72 L474.01,151.90 L475.30,151.07 L476.58,150.21 L477.84,149.32 L479.07,148.42 L480.28,147.50 L481.47,146.56 L482.64,145.59 L483.78,144.61 L484.90,143.61 L486.00,142.59Z"  fill="#8A78BA" stroke="#000" stroke-width="1.0" stroke-linejoin="miter"/>
<path d="M451.03,155.30 L449.99,155.62 L448.94,155.93 L447.89,156.23 L446.84,156.51 L445.78,156.78 L444.71,157.04 L443.64,157.29 L442.57,157.52 L441.49,157.73 L440.40,157.94 L439.32,158.13 L438.23,158.31 L437.14,158.47 L436.04,158.62 L434.95,158.75 L433.85,158.87 L432.74,158.98 L431.64,159.08 L430.54,159.16 L429.43,159.22 L428.32,159.28 L427.21,159.31 L426.11,159.34 L425.00,159.35 L425.03,165.78 L426.25,165.76 L427.47,165.74 L428.70,165.70 L429.92,165.64 L431.14,165.56 L432.36,165.48 L433.57,165.37 L434.79,165.25 L436.00,165.12 L437.21,164.97 L438.42,164.80 L439.62,164.62 L440.82,164.43 L442.02,164.22 L443.22,164.00 L444.41,163.76 L445.59,163.50 L446.77,163.23 L447.95,162.95 L449.12,162.65 L450.28,162.33 L451.44,162.00 L452.59,161.66 L453.74,161.30Z"  fill="#D283BC" stroke="#000" stroke-width="1.0" stroke-linejoin="miter"/>
<path d="M424.39,31.12 L423.12,31.13 L421.85,31.16 L420.58,31.21 L419.32,31.27 L418.05,31.36 L416.79,31.45 L415.53,31.57 L414.27,31.70 L413.01,31.85 L411.76,32.02 L410.51,32.21 L409.26,32.41 L408.02,32.63 L406.79,32.86 L405.55,33.11 L404.32,33.38 L403.10,33.67 L401.89,33.97 L400.68,34.29 L399.47,34.63 L398.27,34.98 L397.08,35.35 L395.90,35.73 L394.72,36.13 L393.36,33.36 L394.59,32.94 L395.83,32.54 L397.07,32.16 L398.32,31.79 L399.58,31.44 L400.85,31.11 L402.12,30.79 L403.40,30.49 L404.68,30.21 L405.97,29.95 L407.26,29.70 L408.56,29.47 L409.86,29.26 L411.17,29.07 L412.48,28.89 L413.79,28.74 L415.11,28.60 L416.43,28.47 L417.75,28.37 L419.07,28.29 L420.40,28.22 L421.72,28.17 L423.05,28.14 L424.37,28.12Z" fill="#F0564E" stroke="#000" stroke-width="0.9" stroke-linejoin="miter"/>
<path d="M394.43,36.23 L393.27,36.65 L392.11,37.09 L390.96,37.54 L389.82,38.00 L388.69,38.49 L387.57,38.98 L386.45,39.50 L385.35,40.03 L384.26,40.57 L383.18,41.13 L382.11,41.70 L381.05,42.29 L380.00,42.89 L378.97,43.50 L377.94,44.13 L376.93,44.78 L375.93,45.43 L374.95,46.10 L373.97,46.79 L373.01,47.48 L372.07,48.19 L371.13,48.92 L370.21,49.65 L369.31,50.40 L366.79,48.28 L367.74,47.50 L368.70,46.73 L369.67,45.98 L370.66,45.23 L371.66,44.50 L372.68,43.79 L373.71,43.09 L374.76,42.40 L375.81,41.73 L376.89,41.07 L377.97,40.43 L379.06,39.80 L380.17,39.19 L381.29,38.59 L382.42,38.00 L383.56,37.44 L384.71,36.88 L385.88,36.35 L387.05,35.83 L388.23,35.32 L389.43,34.83 L390.63,34.36 L391.84,33.91 L393.06,33.47Z" fill="#F07A70" stroke="#000" stroke-width="0.9" stroke-linejoin="miter"/>
<path d="M369.09,50.59 L368.20,51.35 L367.33,52.12 L366.47,52.91 L365.63,53.71 L364.81,54.52 L364.00,55.34 L363.20,56.17 L362.43,57.01 L361.67,57.87 L360.92,58.73 L360.19,59.60 L359.48,60.49 L358.79,61.38 L358.11,62.28 L357.45,63.19 L356.81,64.11 L356.18,65.04 L355.58,65.98 L354.99,66.92 L354.42,67.87 L353.87,68.83 L353.34,69.80 L352.82,70.78 L352.33,71.76 L349.04,70.61 L349.55,69.58 L350.09,68.57 L350.65,67.55 L351.22,66.55 L351.82,65.55 L352.43,64.57 L353.07,63.59 L353.72,62.62 L354.39,61.65 L355.08,60.70 L355.79,59.76 L356.51,58.83 L357.26,57.90 L358.02,56.99 L358.80,56.09 L359.59,55.20 L360.41,54.32 L361.24,53.45 L362.08,52.59 L362.95,51.74 L363.83,50.91 L364.72,50.08 L365.63,49.27 L366.56,48.48Z" fill="#F7B4AB" stroke="#000" stroke-width="0.9" stroke-linejoin="miter"/>
<path d="M352.21,72.00 L351.74,72.99 L351.29,73.99 L350.85,74.99 L350.44,76.00 L350.05,77.01 L349.67,78.03 L349.32,79.05 L348.98,80.08 L348.67,81.11 L348.37,82.15 L348.10,83.19 L347.84,84.24 L347.61,85.28 L347.39,86.33 L347.20,87.39 L347.02,88.44 L346.87,89.50 L346.74,90.56 L346.62,91.62 L346.53,92.69 L346.46,93.75 L346.41,94.82 L346.38,95.88 L346.37,96.95 L342.80,96.95 L342.81,95.84 L342.85,94.72 L342.90,93.61 L342.97,92.49 L343.07,91.38 L343.19,90.27 L343.33,89.16 L343.49,88.06 L343.67,86.95 L343.87,85.85 L344.10,84.75 L344.34,83.66 L344.61,82.57 L344.90,81.48 L345.21,80.39 L345.54,79.31 L345.89,78.24 L346.26,77.17 L346.65,76.10 L347.06,75.04 L347.49,73.99 L347.95,72.94 L348.42,71.90 L348.91,70.87Z" fill="#F9C8C0" stroke="#000" stroke-width="0.9" stroke-linejoin="miter"/>
<path d="M346.37,97.21 L346.38,98.28 L346.42,99.35 L346.47,100.41 L346.55,101.47 L346.65,102.54 L346.77,103.60 L346.91,104.66 L347.06,105.72 L347.24,106.77 L347.44,107.83 L347.66,108.88 L347.90,109.92 L348.16,110.97 L348.44,112.01 L348.74,113.04 L349.06,114.07 L349.40,115.10 L349.76,116.12 L350.14,117.14 L350.54,118.15 L350.96,119.16 L351.40,120.16 L351.85,121.15 L352.33,122.14 L349.04,123.29 L348.54,122.26 L348.06,121.22 L347.60,120.17 L347.17,119.12 L346.75,118.06 L346.35,117.00 L345.98,115.93 L345.62,114.85 L345.29,113.77 L344.97,112.69 L344.68,111.60 L344.41,110.51 L344.16,109.42 L343.93,108.32 L343.72,107.22 L343.53,106.12 L343.37,105.01 L343.22,103.90 L343.10,102.79 L343.00,101.68 L342.92,100.57 L342.86,99.45 L342.82,98.34 L342.80,97.23Z" fill="#FBCDC6" stroke="#000" stroke-width="0.9" stroke-linejoin="miter"/>
<path d="M352.45,122.39 L352.95,123.37 L353.47,124.34 L354.00,125.30 L354.56,126.26 L355.13,127.21 L355.73,128.16 L356.34,129.09 L356.97,130.02 L357.61,130.94 L358.28,131.84 L358.96,132.74 L359.66,133.63 L360.37,134.51 L361.10,135.38 L361.85,136.25 L362.62,137.10 L363.40,137.94 L364.20,138.76 L365.01,139.58 L365.84,140.39 L366.68,141.18 L367.54,141.97 L368.42,142.74 L369.31,143.50 L366.79,145.62 L365.86,144.82 L364.94,144.02 L364.05,143.20 L363.16,142.37 L362.29,141.52 L361.44,140.67 L360.61,139.80 L359.79,138.92 L358.99,138.03 L358.21,137.13 L357.44,136.22 L356.70,135.30 L355.97,134.37 L355.25,133.43 L354.56,132.48 L353.88,131.52 L353.23,130.55 L352.59,129.58 L351.97,128.59 L351.37,127.60 L350.79,126.60 L350.23,125.59 L349.68,124.57 L349.16,123.54Z" fill="#FBD1CB" stroke="#000" stroke-width="0.9" stroke-linejoin="miter"/>
<path d="M369.53,143.69 L370.44,144.43 L371.36,145.16 L372.30,145.88 L373.25,146.59 L374.21,147.28 L375.19,147.96 L376.18,148.63 L377.18,149.28 L378.19,149.92 L379.22,150.55 L380.26,151.16 L381.31,151.76 L382.37,152.34 L383.45,152.91 L384.53,153.47 L385.62,154.01 L386.73,154.53 L387.84,155.04 L388.97,155.53 L390.10,156.01 L391.24,156.48 L392.39,156.92 L393.55,157.35 L394.72,157.77 L393.36,160.54 L392.14,160.10 L390.93,159.65 L389.72,159.18 L388.53,158.70 L387.34,158.20 L386.17,157.68 L385.00,157.15 L383.85,156.60 L382.70,156.04 L381.57,155.46 L380.45,154.86 L379.34,154.25 L378.24,153.63 L377.15,152.99 L376.08,152.33 L375.02,151.67 L373.97,150.98 L372.93,150.28 L371.91,149.57 L370.91,148.85 L369.91,148.11 L368.93,147.36 L367.97,146.59 L367.02,145.81Z" fill="#C9D5F4" stroke="#000" stroke-width="0.9" stroke-linejoin="miter"/>
<path d="M395.01,157.87 L396.19,158.27 L397.38,158.65 L398.57,159.01 L399.77,159.36 L400.97,159.69 L402.19,160.00 L403.40,160.30 L404.63,160.58 L405.86,160.85 L407.09,161.10 L408.33,161.33 L409.57,161.54 L410.82,161.74 L412.07,161.92 L413.32,162.08 L414.58,162.23 L415.84,162.36 L417.10,162.47 L418.36,162.57 L419.63,162.64 L420.90,162.70 L422.16,162.75 L423.43,162.77 L424.70,162.78 L424.70,165.78 L423.37,165.77 L422.05,165.74 L420.72,165.70 L419.40,165.63 L418.08,165.55 L416.75,165.45 L415.44,165.34 L414.12,165.20 L412.80,165.05 L411.49,164.88 L410.19,164.69 L408.88,164.48 L407.58,164.26 L406.29,164.02 L405.00,163.76 L403.71,163.48 L402.44,163.18 L401.16,162.87 L399.89,162.54 L398.63,162.20 L397.38,161.83 L396.13,161.45 L394.89,161.06 L393.66,160.64Z" fill="#A6BDEE" stroke="#000" stroke-width="0.9" stroke-linejoin="miter"/>
<ellipse cx="424.7" cy="96.95" rx="81.90" ry="68.83" fill="none" stroke="#000" stroke-width="1.3"/>
<text transform="translate(404.8,23.8) rotate(90)" x="0" y="2.52" font-size="7.1" text-anchor="end" fill="#000">MSN</text>
<text transform="translate(375.3,34.9) rotate(60)" x="0" y="2.98" font-size="8.4" text-anchor="end" fill="#000">APOE</text>
<text transform="translate(352.9,55.8) rotate(29)" x="0" y="3.19" font-size="9.0" text-anchor="end" fill="#000">MYH9</text>
<text transform="translate(338.1,85.2) rotate(9)" x="0" y="2.70" font-size="7.6" text-anchor="end" fill="#000">GPC2</text>
<text transform="translate(341.1,113.7) rotate(-20.5)" x="0" y="2.59" font-size="7.3" text-anchor="end" fill="#000">CAPZB</text>
<text transform="translate(351.4,139.4) rotate(-34)" x="0" y="2.86" font-size="8.05" text-anchor="end" fill="#000">LRP1</text>
<text transform="translate(377.1,155.2) rotate(-60)" x="0" y="2.64" font-size="7.45" text-anchor="end" fill="#000">SPTAN1</text>
<text transform="translate(402.6,166.4) rotate(-90)" x="0" y="2.54" font-size="7.15" text-anchor="end" fill="#000">EPB41L3</text>
<text x="483.40" y="164.70" font-size="6.5" text-anchor="start" font-weight="normal" fill="#222">logFC</text>
<rect x="474.2" y="168.5" width="32.7" height="6.0" fill="url(#gL)"/>
<text x="489.70" y="181.70" font-size="6.5" text-anchor="middle" font-weight="normal" fill="#222">0</text>
<text x="306.60" y="201.30" font-size="7.2" text-anchor="start" font-weight="bold" fill="#000">GO Terms</text>
<rect x="308.09999999999997" y="210.40" width="6.4" height="6.4" fill="#EE1C1C" stroke="#222" stroke-width="0.6"/>
<text x="317.80" y="215.40" font-size="5.05" text-anchor="start" font-weight="normal" fill="#111">Regulation of cellular component size</text>
<rect x="308.09999999999997" y="222.80" width="6.4" height="6.4" fill="#FCB814" stroke="#222" stroke-width="0.6"/>
<text x="317.80" y="227.80" font-size="5.05" text-anchor="start" font-weight="normal" fill="#111">Regulation of cell morphogenesis</text>
<rect x="308.09999999999997" y="235.20" width="6.4" height="6.4" fill="#86C82C" stroke="#222" stroke-width="0.6"/>
<text x="317.80" y="240.20" font-size="5.05" text-anchor="start" font-weight="normal" fill="#111">Regulation of amyloid−beta clearance</text>
<rect x="308.09999999999997" y="247.60" width="6.4" height="6.4" fill="#58BA32" stroke="#222" stroke-width="0.6"/>
<text x="317.80" y="252.60" font-size="5.05" text-anchor="start" font-weight="normal" fill="#111">Positive regulation of cholesterol efflux</text>
<rect x="408.5" y="210.40" width="6.4" height="6.4" fill="#5BC5DB" stroke="#222" stroke-width="0.6"/>
<text x="418.20" y="215.40" font-size="5.05" text-anchor="start" font-weight="normal" fill="#111">Regulation of cell shape</text>
<rect x="408.5" y="222.80" width="6.4" height="6.4" fill="#1F4FA8" stroke="#222" stroke-width="0.6"/>
<text x="418.20" y="227.80" font-size="5.05" text-anchor="start" font-weight="normal" fill="#111">Positive regulation of cellular protein catabolic process</text>
<rect x="408.5" y="235.20" width="6.4" height="6.4" fill="#5B3C9E" stroke="#222" stroke-width="0.6"/>
<text x="418.20" y="240.20" font-size="5.05" text-anchor="start" font-weight="normal" fill="#111">Regulation of actin filament−based process</text>
<rect x="408.5" y="247.60" width="6.4" height="6.4" fill="#D6409E" stroke="#222" stroke-width="0.6"/>
<text x="418.20" y="252.60" font-size="5.05" text-anchor="start" font-weight="normal" fill="#111">Positive regulation of neuron projection development</text>
<path d="M424.60,324.75 L426.16,324.78 L427.71,324.85 L429.26,324.97 L430.81,325.14 L432.34,325.35 L433.87,325.62 L435.39,325.93 L436.89,326.29 L438.37,326.69 L439.84,327.14 L441.29,327.64 L442.72,328.18 L444.12,328.77 L445.50,329.39 L446.86,330.06 L448.18,330.78 L449.48,331.53 L450.74,332.32 L451.97,333.15 L453.16,334.02 L454.32,334.93 L455.44,335.87 L468.65,324.37 L467.05,323.03 L465.40,321.74 L463.69,320.50 L461.94,319.31 L460.13,318.18 L458.28,317.10 L456.39,316.09 L454.46,315.13 L452.49,314.23 L450.48,313.40 L448.44,312.62 L446.37,311.92 L444.27,311.27 L442.15,310.69 L440.01,310.18 L437.84,309.74 L435.66,309.36 L433.47,309.05 L431.26,308.81 L429.04,308.64 L426.82,308.53 L424.60,308.50Z" fill="#E9554B" stroke="#E9554B" stroke-width="0.25"/>
<path d="M424.60,305.92 L426.93,305.96 L429.26,306.07 L431.58,306.25 L433.89,306.50 L436.19,306.82 L438.47,307.22 L440.74,307.68 L442.99,308.22 L445.21,308.83 L447.41,309.50 L449.58,310.24 L451.71,311.05 L453.81,311.93 L455.88,312.87 L457.90,313.87 L459.88,314.93 L461.82,316.06 L463.71,317.25 L465.55,318.49 L467.34,319.79 L469.07,321.14 L470.75,322.55 L473.16,320.46 L471.39,318.97 L469.57,317.55 L467.69,316.18 L465.75,314.87 L463.76,313.63 L461.73,312.44 L459.64,311.32 L457.51,310.26 L455.34,309.28 L453.13,308.36 L450.88,307.50 L448.60,306.72 L446.29,306.01 L443.95,305.38 L441.58,304.81 L439.20,304.32 L436.79,303.91 L434.37,303.57 L431.94,303.30 L429.50,303.11 L427.05,303.00 L424.60,302.96Z" fill="#86D0C3" stroke="#86D0C3" stroke-width="0.25"/>
<path d="M424.60,302.96 L427.05,303.00 L429.50,303.11 L431.94,303.30 L434.37,303.57 L436.79,303.91 L439.20,304.32 L441.58,304.81 L443.95,305.38 L446.29,306.01 L448.60,306.72 L450.88,307.50 L453.13,308.36 L455.34,309.28 L457.51,310.26 L459.64,311.32 L461.73,312.44 L463.76,313.63 L465.75,314.87 L467.69,316.18 L469.57,317.55 L471.39,318.97 L473.16,320.46 L475.57,318.36 L473.72,316.80 L471.80,315.31 L469.83,313.87 L467.79,312.50 L465.71,311.19 L463.57,309.95 L461.38,308.77 L459.14,307.66 L456.86,306.63 L454.54,305.66 L452.18,304.77 L449.79,303.95 L447.36,303.20 L444.91,302.53 L442.43,301.94 L439.92,301.43 L437.40,300.99 L434.86,300.63 L432.30,300.35 L429.74,300.15 L427.17,300.03 L424.60,299.99Z" fill="#B8B6DC" stroke="#B8B6DC" stroke-width="0.25"/>
<path d="M424.60,299.99 L427.17,300.03 L429.74,300.15 L432.30,300.35 L434.86,300.63 L437.40,300.99 L439.92,301.43 L442.43,301.94 L444.91,302.53 L447.36,303.20 L449.79,303.95 L452.18,304.77 L454.54,305.66 L456.86,306.63 L459.14,307.66 L461.38,308.77 L463.57,309.95 L465.71,311.19 L467.79,312.50 L469.83,313.87 L471.80,315.31 L473.72,316.80 L475.57,318.36 L477.98,316.26 L476.04,314.64 L474.03,313.07 L471.96,311.57 L469.84,310.13 L467.65,308.76 L465.41,307.45 L463.12,306.22 L460.78,305.06 L458.39,303.97 L455.96,302.96 L453.49,302.03 L450.98,301.17 L448.44,300.39 L445.87,299.69 L443.27,299.07 L440.65,298.53 L438.00,298.07 L435.34,297.70 L432.67,297.40 L429.99,297.20 L427.29,297.07 L424.60,297.03Z" fill="#F87C6E" stroke="#F87C6E" stroke-width="0.25"/>
<path d="M424.60,297.03 L427.29,297.07 L429.99,297.20 L432.67,297.40 L435.34,297.70 L438.00,298.07 L440.65,298.53 L443.27,299.07 L445.87,299.69 L448.44,300.39 L450.98,301.17 L453.49,302.03 L455.96,302.96 L458.39,303.97 L460.78,305.06 L463.12,306.22 L465.41,307.45 L467.65,308.76 L469.84,310.13 L471.96,311.57 L474.03,313.07 L476.04,314.64 L477.98,316.26 L480.39,314.17 L478.36,312.47 L476.26,310.83 L474.10,309.26 L471.88,307.75 L469.59,306.32 L467.25,304.96 L464.86,303.67 L462.41,302.46 L459.91,301.32 L457.37,300.27 L454.79,299.29 L452.17,298.39 L449.51,297.58 L446.83,296.84 L444.11,296.20 L441.37,295.63 L438.61,295.15 L435.83,294.76 L433.03,294.46 L430.23,294.24 L427.42,294.11 L424.60,294.06Z" fill="#FBB05E" stroke="#FBB05E" stroke-width="0.25"/>
<path d="M424.60,294.06 L427.42,294.11 L430.23,294.24 L433.03,294.46 L435.83,294.76 L438.61,295.15 L441.37,295.63 L444.11,296.20 L446.83,296.84 L449.51,297.58 L452.17,298.39 L454.79,299.29 L457.37,300.27 L459.91,301.32 L462.41,302.46 L464.86,303.67 L467.25,304.96 L469.59,306.32 L471.88,307.75 L474.10,309.26 L476.26,310.83 L478.36,312.47 L480.39,314.17 L482.79,312.07 L480.68,310.30 L478.50,308.59 L476.24,306.95 L473.92,305.38 L471.54,303.89 L469.09,302.47 L466.60,301.12 L464.04,299.86 L461.44,298.67 L458.79,297.57 L456.09,296.55 L453.36,295.61 L450.59,294.76 L447.79,294.00 L444.95,293.32 L442.09,292.74 L439.21,292.24 L436.31,291.83 L433.40,291.51 L430.47,291.28 L427.54,291.15 L424.60,291.10Z" fill="#F9C8E3" stroke="#F9C8E3" stroke-width="0.25"/>
<path d="M455.44,335.87 L456.52,336.84 L457.57,337.85 L458.56,338.89 L459.52,339.96 L460.43,341.06 L461.29,342.18 L462.11,343.34 L462.88,344.51 L463.61,345.71 L464.28,346.94 L464.90,348.18 L465.47,349.44 L465.99,350.72 L466.45,352.01 L466.86,353.32 L467.22,354.63 L467.53,355.96 L467.78,357.30 L467.97,358.64 L468.11,359.99 L468.19,361.35 L468.22,362.70 L486.90,362.70 L486.86,360.77 L486.74,358.83 L486.54,356.91 L486.27,354.99 L485.91,353.08 L485.48,351.18 L484.97,349.30 L484.38,347.43 L483.71,345.58 L482.97,343.76 L482.16,341.96 L481.27,340.18 L480.31,338.44 L479.28,336.72 L478.18,335.04 L477.01,333.40 L475.78,331.79 L474.47,330.22 L473.11,328.69 L471.68,327.21 L470.20,325.77 L468.65,324.37Z" fill="#FBCFC8" stroke="#FBCFC8" stroke-width="0.25"/>
<path d="M470.75,322.55 L472.37,324.01 L473.92,325.52 L475.42,327.07 L476.85,328.67 L478.21,330.32 L479.50,332.00 L480.73,333.73 L481.88,335.49 L482.96,337.28 L483.97,339.11 L484.90,340.97 L485.75,342.86 L486.52,344.77 L487.22,346.70 L487.84,348.66 L488.37,350.63 L488.83,352.62 L489.20,354.62 L489.49,356.63 L489.70,358.65 L489.82,360.67 L489.86,362.70 L492.70,362.70 L492.66,360.59 L492.53,358.47 L492.31,356.37 L492.01,354.27 L491.62,352.18 L491.15,350.11 L490.59,348.05 L489.94,346.01 L489.22,343.99 L488.41,341.99 L487.52,340.03 L486.55,338.09 L485.50,336.18 L484.37,334.30 L483.17,332.47 L481.89,330.67 L480.54,328.91 L479.12,327.19 L477.63,325.52 L476.07,323.90 L474.44,322.33 L472.76,320.80Z" fill="#86D0C3" stroke="#86D0C3" stroke-width="0.25"/>
<path d="M472.76,320.80 L474.44,322.33 L476.07,323.90 L477.63,325.52 L479.12,327.19 L480.54,328.91 L481.89,330.67 L483.17,332.47 L484.37,334.30 L485.50,336.18 L486.55,338.09 L487.52,340.03 L488.41,341.99 L489.22,343.99 L489.94,346.01 L490.59,348.05 L491.15,350.11 L491.62,352.18 L492.01,354.27 L492.31,356.37 L492.53,358.47 L492.66,360.59 L492.70,362.70 L495.54,362.70 L495.50,360.50 L495.36,358.30 L495.14,356.10 L494.82,353.92 L494.42,351.74 L493.92,349.58 L493.34,347.44 L492.67,345.31 L491.91,343.21 L491.07,341.13 L490.14,339.08 L489.13,337.06 L488.04,335.07 L486.86,333.12 L485.61,331.21 L484.28,329.33 L482.87,327.50 L481.39,325.71 L479.84,323.97 L478.21,322.28 L476.52,320.64 L474.76,319.06Z" fill="#B8B6DC" stroke="#B8B6DC" stroke-width="0.25"/>
<path d="M474.76,319.06 L476.52,320.64 L478.21,322.28 L479.84,323.97 L481.39,325.71 L482.87,327.50 L484.28,329.33 L485.61,331.21 L486.86,333.12 L488.04,335.07 L489.13,337.06 L490.14,339.08 L491.07,341.13 L491.91,343.21 L492.67,345.31 L493.34,347.44 L493.92,349.58 L494.42,351.74 L494.82,353.92 L495.14,356.10 L495.36,358.30 L495.50,360.50 L495.54,362.70 L498.38,362.70 L498.33,360.41 L498.19,358.12 L497.96,355.84 L497.63,353.56 L497.21,351.30 L496.70,349.06 L496.09,346.83 L495.39,344.62 L494.61,342.43 L493.73,340.27 L492.77,338.14 L491.71,336.03 L490.58,333.97 L489.36,331.94 L488.05,329.95 L486.67,328.00 L485.21,326.09 L483.67,324.23 L482.05,322.42 L480.36,320.66 L478.60,318.96 L476.77,317.31Z" fill="#F87C6E" stroke="#F87C6E" stroke-width="0.25"/>
<path d="M476.77,317.31 L478.60,318.96 L480.36,320.66 L482.05,322.42 L483.67,324.23 L485.21,326.09 L486.67,328.00 L488.05,329.95 L489.36,331.94 L490.58,333.97 L491.71,336.03 L492.77,338.14 L493.73,340.27 L494.61,342.43 L495.39,344.62 L496.09,346.83 L496.70,349.06 L497.21,351.30 L497.63,353.56 L497.96,355.84 L498.19,358.12 L498.33,360.41 L498.38,362.70 L501.22,362.70 L501.17,360.32 L501.03,357.94 L500.78,355.57 L500.44,353.21 L500.00,350.86 L499.47,348.53 L498.84,346.21 L498.12,343.92 L497.30,341.65 L496.39,339.40 L495.39,337.19 L494.30,335.01 L493.12,332.86 L491.85,330.75 L490.50,328.69 L489.06,326.66 L487.54,324.68 L485.94,322.75 L484.26,320.87 L482.51,319.05 L480.68,317.28 L478.78,315.56Z" fill="#FBB05E" stroke="#FBB05E" stroke-width="0.25"/>
<path d="M478.78,315.56 L480.68,317.28 L482.51,319.05 L484.26,320.87 L485.94,322.75 L487.54,324.68 L489.06,326.66 L490.50,328.69 L491.85,330.75 L493.12,332.86 L494.30,335.01 L495.39,337.19 L496.39,339.40 L497.30,341.65 L498.12,343.92 L498.84,346.21 L499.47,348.53 L500.00,350.86 L500.44,353.21 L500.78,355.57 L501.03,357.94 L501.17,360.32 L501.22,362.70 L504.06,362.70 L504.01,360.23 L503.86,357.77 L503.61,355.31 L503.25,352.86 L502.80,350.43 L502.24,348.01 L501.59,345.60 L500.84,343.22 L499.99,340.87 L499.05,338.54 L498.01,336.25 L496.88,333.98 L495.66,331.76 L494.34,329.57 L492.94,327.43 L491.45,325.33 L489.87,323.27 L488.21,321.27 L486.47,319.32 L484.65,317.43 L482.76,315.59 L480.79,313.82Z" fill="#A9D562" stroke="#A9D562" stroke-width="0.25"/>
<path d="M480.79,313.82 L482.76,315.59 L484.65,317.43 L486.47,319.32 L488.21,321.27 L489.87,323.27 L491.45,325.33 L492.94,327.43 L494.34,329.57 L495.66,331.76 L496.88,333.98 L498.01,336.25 L499.05,338.54 L499.99,340.87 L500.84,343.22 L501.59,345.60 L502.24,348.01 L502.80,350.43 L503.25,352.86 L503.61,355.31 L503.86,357.77 L504.01,360.23 L504.06,362.70 L506.90,362.70 L506.85,360.14 L506.69,357.59 L506.43,355.05 L506.06,352.51 L505.59,349.99 L505.02,347.48 L504.34,344.99 L503.57,342.53 L502.69,340.09 L501.71,337.68 L500.64,335.30 L499.46,332.96 L498.19,330.65 L496.83,328.39 L495.38,326.16 L493.84,323.99 L492.20,321.86 L490.48,319.79 L488.68,317.77 L486.80,315.81 L484.83,313.91 L482.79,312.07Z" fill="#F9C8E3" stroke="#F9C8E3" stroke-width="0.25"/>
<path d="M468.22,362.70 L468.19,364.05 L468.11,365.41 L467.97,366.76 L467.78,368.10 L467.53,369.44 L467.22,370.77 L466.86,372.08 L466.45,373.39 L465.99,374.68 L465.47,375.96 L464.90,377.22 L464.28,378.46 L463.61,379.69 L462.88,380.89 L462.11,382.06 L461.29,383.22 L460.43,384.34 L459.52,385.44 L458.56,386.51 L457.57,387.55 L456.52,388.56 L455.44,389.53 L468.65,401.03 L470.20,399.63 L471.68,398.19 L473.11,396.71 L474.47,395.18 L475.78,393.61 L477.01,392.00 L478.18,390.36 L479.28,388.68 L480.31,386.96 L481.27,385.22 L482.16,383.44 L482.97,381.64 L483.71,379.82 L484.38,377.97 L484.97,376.10 L485.48,374.22 L485.91,372.32 L486.27,370.41 L486.54,368.49 L486.74,366.57 L486.86,364.63 L486.90,362.70Z" fill="#F8C5BD" stroke="#F8C5BD" stroke-width="0.25"/>
<path d="M489.86,362.70 L489.82,364.73 L489.70,366.75 L489.49,368.77 L489.20,370.78 L488.83,372.78 L488.37,374.77 L487.84,376.74 L487.22,378.70 L486.52,380.63 L485.75,382.54 L484.90,384.43 L483.97,386.29 L482.96,388.12 L481.88,389.91 L480.73,391.67 L479.50,393.40 L478.21,395.08 L476.85,396.73 L475.42,398.33 L473.92,399.88 L472.37,401.39 L470.75,402.85 L482.79,413.33 L484.83,411.49 L486.80,409.59 L488.68,407.63 L490.48,405.61 L492.20,403.54 L493.84,401.41 L495.38,399.24 L496.83,397.01 L498.19,394.75 L499.46,392.44 L500.64,390.10 L501.71,387.72 L502.69,385.31 L503.57,382.87 L504.34,380.41 L505.02,377.92 L505.59,375.41 L506.06,372.89 L506.43,370.35 L506.69,367.81 L506.85,365.26 L506.90,362.70Z" fill="#F9C8E3" stroke="#F9C8E3" stroke-width="0.25"/>
<path d="M455.44,389.53 L454.32,390.47 L453.16,391.38 L451.97,392.25 L450.74,393.08 L449.48,393.87 L448.18,394.62 L446.86,395.34 L445.50,396.01 L444.12,396.63 L442.72,397.22 L441.29,397.76 L439.84,398.26 L438.37,398.71 L436.89,399.11 L435.39,399.47 L433.87,399.78 L432.34,400.05 L430.81,400.26 L429.26,400.43 L427.71,400.55 L426.16,400.62 L424.60,400.65 L424.60,416.90 L426.82,416.87 L429.04,416.76 L431.26,416.59 L433.47,416.35 L435.66,416.04 L437.84,415.66 L440.01,415.22 L442.15,414.71 L444.27,414.13 L446.37,413.48 L448.44,412.78 L450.48,412.00 L452.49,411.17 L454.46,410.27 L456.39,409.31 L458.28,408.30 L460.13,407.22 L461.94,406.09 L463.69,404.90 L465.40,403.66 L467.05,402.37 L468.65,401.03Z" fill="#FAC8C0" stroke="#FAC8C0" stroke-width="0.25"/>
<path d="M470.75,402.85 L469.07,404.26 L467.34,405.61 L465.55,406.91 L463.71,408.15 L461.82,409.34 L459.88,410.47 L457.90,411.53 L455.88,412.53 L453.81,413.47 L451.71,414.35 L449.58,415.16 L447.41,415.90 L445.21,416.57 L442.99,417.18 L440.74,417.72 L438.47,418.18 L436.19,418.58 L433.89,418.90 L431.58,419.15 L429.26,419.33 L426.93,419.44 L424.60,419.48 L424.60,424.42 L427.13,424.38 L429.66,424.26 L432.18,424.07 L434.70,423.79 L437.20,423.44 L439.68,423.01 L442.14,422.50 L444.59,421.92 L447.00,421.26 L449.39,420.53 L451.75,419.72 L454.07,418.84 L456.36,417.89 L458.60,416.87 L460.80,415.78 L462.95,414.62 L465.06,413.40 L467.11,412.11 L469.11,410.76 L471.06,409.34 L472.94,407.87 L474.76,406.34Z" fill="#86D0C3" stroke="#86D0C3" stroke-width="0.25"/>
<path d="M474.76,406.34 L472.94,407.87 L471.06,409.34 L469.11,410.76 L467.11,412.11 L465.06,413.40 L462.95,414.62 L460.80,415.78 L458.60,416.87 L456.36,417.89 L454.07,418.84 L451.75,419.72 L449.39,420.53 L447.00,421.26 L444.59,421.92 L442.14,422.50 L439.68,423.01 L437.20,423.44 L434.70,423.79 L432.18,424.07 L429.66,424.26 L427.13,424.38 L424.60,424.42 L424.60,429.36 L427.33,429.32 L430.07,429.19 L432.79,428.98 L435.50,428.68 L438.20,428.30 L440.89,427.84 L443.55,427.29 L446.19,426.66 L448.80,425.95 L451.38,425.16 L453.92,424.29 L456.43,423.34 L458.90,422.31 L461.32,421.21 L463.70,420.03 L466.02,418.78 L468.30,417.46 L470.52,416.06 L472.68,414.60 L474.78,413.08 L476.81,411.49 L478.78,409.84Z" fill="#F8F5AC" stroke="#F8F5AC" stroke-width="0.25"/>
<path d="M478.78,409.84 L476.81,411.49 L474.78,413.08 L472.68,414.60 L470.52,416.06 L468.30,417.46 L466.02,418.78 L463.70,420.03 L461.32,421.21 L458.90,422.31 L456.43,423.34 L453.92,424.29 L451.38,425.16 L448.80,425.95 L446.19,426.66 L443.55,427.29 L440.89,427.84 L438.20,428.30 L435.50,428.68 L432.79,428.98 L430.07,429.19 L427.33,429.32 L424.60,429.36 L424.60,434.30 L427.54,434.25 L430.47,434.12 L433.40,433.89 L436.31,433.57 L439.21,433.16 L442.09,432.66 L444.95,432.08 L447.79,431.40 L450.59,430.64 L453.36,429.79 L456.09,428.85 L458.79,427.83 L461.44,426.73 L464.04,425.54 L466.60,424.28 L469.09,422.93 L471.54,421.51 L473.92,420.02 L476.24,418.45 L478.50,416.81 L480.68,415.10 L482.79,413.33Z" fill="#A9D562" stroke="#A9D562" stroke-width="0.25"/>
<path d="M424.60,400.65 L423.04,400.62 L421.49,400.55 L419.94,400.43 L418.39,400.26 L416.86,400.05 L415.33,399.78 L413.81,399.47 L412.31,399.11 L410.83,398.71 L409.36,398.26 L407.91,397.76 L406.48,397.22 L405.08,396.63 L403.70,396.01 L402.34,395.34 L401.02,394.62 L399.72,393.87 L398.46,393.08 L397.23,392.25 L396.04,391.38 L394.88,390.47 L393.76,389.53 L380.55,401.03 L382.15,402.37 L383.80,403.66 L385.51,404.90 L387.26,406.09 L389.07,407.22 L390.92,408.30 L392.81,409.31 L394.74,410.27 L396.71,411.17 L398.72,412.00 L400.76,412.78 L402.83,413.48 L404.93,414.13 L407.05,414.71 L409.19,415.22 L411.36,415.66 L413.54,416.04 L415.73,416.35 L417.94,416.59 L420.16,416.76 L422.38,416.87 L424.60,416.90Z" fill="#C9D3F0" stroke="#C9D3F0" stroke-width="0.25"/>
<path d="M424.60,419.48 L422.27,419.44 L419.94,419.33 L417.62,419.15 L415.31,418.90 L413.01,418.58 L410.73,418.18 L408.46,417.72 L406.21,417.18 L403.99,416.57 L401.79,415.90 L399.62,415.16 L397.49,414.35 L395.39,413.47 L393.32,412.53 L391.30,411.53 L389.32,410.47 L387.38,409.34 L385.49,408.15 L383.65,406.91 L381.86,405.61 L380.13,404.26 L378.45,402.85 L372.43,408.09 L374.32,409.68 L376.28,411.21 L378.30,412.68 L380.38,414.09 L382.52,415.43 L384.71,416.70 L386.95,417.90 L389.24,419.04 L391.57,420.10 L393.95,421.09 L396.36,422.00 L398.82,422.84 L401.30,423.60 L403.81,424.29 L406.35,424.90 L408.92,425.42 L411.50,425.87 L414.10,426.24 L416.71,426.52 L419.34,426.73 L421.97,426.85 L424.60,426.89Z" fill="#86D0C3" stroke="#86D0C3" stroke-width="0.25"/>
<path d="M424.60,426.89 L421.97,426.85 L419.34,426.73 L416.71,426.52 L414.10,426.24 L411.50,425.87 L408.92,425.42 L406.35,424.90 L403.81,424.29 L401.30,423.60 L398.82,422.84 L396.36,422.00 L393.95,421.09 L391.57,420.10 L389.24,419.04 L386.95,417.90 L384.71,416.70 L382.52,415.43 L380.38,414.09 L378.30,412.68 L376.28,411.21 L374.32,409.68 L372.43,408.09 L366.41,413.33 L368.52,415.10 L370.70,416.81 L372.96,418.45 L375.28,420.02 L377.66,421.51 L380.11,422.93 L382.60,424.28 L385.16,425.54 L387.76,426.73 L390.41,427.83 L393.11,428.85 L395.84,429.79 L398.61,430.64 L401.41,431.40 L404.25,432.08 L407.11,432.66 L409.99,433.16 L412.89,433.57 L415.80,433.89 L418.73,434.12 L421.66,434.25 L424.60,434.30Z" fill="#A9D562" stroke="#A9D562" stroke-width="0.25"/>
<path d="M393.76,389.53 L392.68,388.56 L391.63,387.55 L390.64,386.51 L389.68,385.44 L388.77,384.34 L387.91,383.22 L387.09,382.06 L386.32,380.89 L385.59,379.69 L384.92,378.46 L384.30,377.22 L383.73,375.96 L383.21,374.68 L382.75,373.39 L382.34,372.08 L381.98,370.77 L381.67,369.44 L381.42,368.10 L381.23,366.76 L381.09,365.41 L381.01,364.05 L380.98,362.70 L362.30,362.70 L362.34,364.63 L362.46,366.57 L362.66,368.49 L362.93,370.41 L363.29,372.32 L363.72,374.22 L364.23,376.10 L364.82,377.97 L365.49,379.82 L366.23,381.64 L367.04,383.44 L367.93,385.22 L368.89,386.96 L369.92,388.68 L371.02,390.36 L372.19,392.00 L373.42,393.61 L374.73,395.18 L376.09,396.71 L377.52,398.19 L379.00,399.63 L380.55,401.03Z" fill="#E8313A" stroke="#E8313A" stroke-width="0.25"/>
<path d="M378.45,402.85 L376.83,401.39 L375.28,399.88 L373.78,398.33 L372.35,396.73 L370.99,395.08 L369.70,393.40 L368.47,391.67 L367.32,389.91 L366.24,388.12 L365.23,386.29 L364.30,384.43 L363.45,382.54 L362.68,380.63 L361.98,378.70 L361.36,376.74 L360.83,374.77 L360.37,372.78 L360.00,370.78 L359.71,368.77 L359.50,366.75 L359.38,364.73 L359.34,362.70 L355.08,362.70 L355.12,364.86 L355.25,367.01 L355.48,369.17 L355.78,371.31 L356.18,373.44 L356.67,375.56 L357.24,377.66 L357.89,379.74 L358.63,381.80 L359.46,383.84 L360.37,385.85 L361.36,387.83 L362.43,389.77 L363.58,391.69 L364.81,393.56 L366.11,395.40 L367.49,397.20 L368.94,398.95 L370.47,400.65 L372.06,402.31 L373.72,403.91 L375.44,405.47Z" fill="#86D0C3" stroke="#86D0C3" stroke-width="0.25"/>
<path d="M375.44,405.47 L373.72,403.91 L372.06,402.31 L370.47,400.65 L368.94,398.95 L367.49,397.20 L366.11,395.40 L364.81,393.56 L363.58,391.69 L362.43,389.77 L361.36,387.83 L360.37,385.85 L359.46,383.84 L358.63,381.80 L357.89,379.74 L357.24,377.66 L356.67,375.56 L356.18,373.44 L355.78,371.31 L355.48,369.17 L355.25,367.01 L355.12,364.86 L355.08,362.70 L350.82,362.70 L350.87,364.99 L351.01,367.28 L351.24,369.56 L351.57,371.84 L351.99,374.10 L352.50,376.34 L353.11,378.57 L353.81,380.78 L354.59,382.97 L355.47,385.13 L356.43,387.26 L357.49,389.37 L358.62,391.43 L359.84,393.46 L361.15,395.45 L362.53,397.40 L363.99,399.31 L365.53,401.17 L367.15,402.98 L368.84,404.74 L370.60,406.44 L372.43,408.09Z" fill="#F8F5AC" stroke="#F8F5AC" stroke-width="0.25"/>
<path d="M372.43,408.09 L370.60,406.44 L368.84,404.74 L367.15,402.98 L365.53,401.17 L363.99,399.31 L362.53,397.40 L361.15,395.45 L359.84,393.46 L358.62,391.43 L357.49,389.37 L356.43,387.26 L355.47,385.13 L354.59,382.97 L353.81,380.78 L353.11,378.57 L352.50,376.34 L351.99,374.10 L351.57,371.84 L351.24,369.56 L351.01,367.28 L350.87,364.99 L350.82,362.70 L346.56,362.70 L346.61,365.12 L346.76,367.54 L347.01,369.96 L347.35,372.36 L347.80,374.75 L348.34,377.13 L348.98,379.49 L349.72,381.83 L350.55,384.14 L351.48,386.43 L352.50,388.68 L353.61,390.90 L354.81,393.09 L356.11,395.24 L357.48,397.34 L358.95,399.41 L360.50,401.42 L362.12,403.39 L363.83,405.30 L365.62,407.16 L367.48,408.96 L369.42,410.71Z" fill="#7AABD0" stroke="#7AABD0" stroke-width="0.25"/>
<path d="M369.42,410.71 L367.48,408.96 L365.62,407.16 L363.83,405.30 L362.12,403.39 L360.50,401.42 L358.95,399.41 L357.48,397.34 L356.11,395.24 L354.81,393.09 L353.61,390.90 L352.50,388.68 L351.48,386.43 L350.55,384.14 L349.72,381.83 L348.98,379.49 L348.34,377.13 L347.80,374.75 L347.35,372.36 L347.01,369.96 L346.76,367.54 L346.61,365.12 L346.56,362.70 L342.30,362.70 L342.35,365.26 L342.51,367.81 L342.77,370.35 L343.14,372.89 L343.61,375.41 L344.18,377.92 L344.86,380.41 L345.63,382.87 L346.51,385.31 L347.49,387.72 L348.56,390.10 L349.74,392.44 L351.01,394.75 L352.37,397.01 L353.82,399.24 L355.36,401.41 L357.00,403.54 L358.72,405.61 L360.52,407.63 L362.40,409.59 L364.37,411.49 L366.41,413.33Z" fill="#FBB05E" stroke="#FBB05E" stroke-width="0.25"/>
<path d="M380.98,362.70 L381.01,361.35 L381.09,359.99 L381.23,358.64 L381.42,357.30 L381.67,355.96 L381.98,354.63 L382.34,353.32 L382.75,352.01 L383.21,350.72 L383.73,349.44 L384.30,348.18 L384.92,346.94 L385.59,345.71 L386.32,344.51 L387.09,343.34 L387.91,342.18 L388.77,341.06 L389.68,339.96 L390.64,338.89 L391.63,337.85 L392.68,336.84 L393.76,335.87 L380.55,324.37 L379.00,325.77 L377.52,327.21 L376.09,328.69 L374.73,330.22 L373.42,331.79 L372.19,333.40 L371.02,335.04 L369.92,336.72 L368.89,338.44 L367.93,340.18 L367.04,341.96 L366.23,343.76 L365.49,345.58 L364.82,347.43 L364.23,349.30 L363.72,351.18 L363.29,353.08 L362.93,354.99 L362.66,356.91 L362.46,358.83 L362.34,360.77 L362.30,362.70Z" fill="#8FABDE" stroke="#8FABDE" stroke-width="0.25"/>
<path d="M359.34,362.70 L359.38,360.67 L359.50,358.65 L359.71,356.63 L360.00,354.62 L360.37,352.62 L360.83,350.63 L361.36,348.66 L361.98,346.70 L362.68,344.77 L363.45,342.86 L364.30,340.97 L365.23,339.11 L366.24,337.28 L367.32,335.49 L368.47,333.73 L369.70,332.00 L370.99,330.32 L372.35,328.67 L373.78,327.07 L375.28,325.52 L376.83,324.01 L378.45,322.55 L372.43,317.31 L370.60,318.96 L368.84,320.66 L367.15,322.42 L365.53,324.23 L363.99,326.09 L362.53,328.00 L361.15,329.95 L359.84,331.94 L358.62,333.97 L357.49,336.03 L356.43,338.14 L355.47,340.27 L354.59,342.43 L353.81,344.62 L353.11,346.83 L352.50,349.06 L351.99,351.30 L351.57,353.56 L351.24,355.84 L351.01,358.12 L350.87,360.41 L350.82,362.70Z" fill="#F8F5AC" stroke="#F8F5AC" stroke-width="0.25"/>
<path d="M350.82,362.70 L350.87,360.41 L351.01,358.12 L351.24,355.84 L351.57,353.56 L351.99,351.30 L352.50,349.06 L353.11,346.83 L353.81,344.62 L354.59,342.43 L355.47,340.27 L356.43,338.14 L357.49,336.03 L358.62,333.97 L359.84,331.94 L361.15,329.95 L362.53,328.00 L363.99,326.09 L365.53,324.23 L367.15,322.42 L368.84,320.66 L370.60,318.96 L372.43,317.31 L366.41,312.07 L364.37,313.91 L362.40,315.81 L360.52,317.77 L358.72,319.79 L357.00,321.86 L355.36,323.99 L353.82,326.16 L352.37,328.39 L351.01,330.65 L349.74,332.96 L348.56,335.30 L347.49,337.68 L346.51,340.09 L345.63,342.53 L344.86,344.99 L344.18,347.48 L343.61,349.99 L343.14,352.51 L342.77,355.05 L342.51,357.59 L342.35,360.14 L342.30,362.70Z" fill="#7AABD0" stroke="#7AABD0" stroke-width="0.25"/>
<path d="M393.76,335.87 L394.88,334.93 L396.04,334.02 L397.23,333.15 L398.46,332.32 L399.72,331.53 L401.02,330.78 L402.34,330.06 L403.70,329.39 L405.08,328.77 L406.48,328.18 L407.91,327.64 L409.36,327.14 L410.83,326.69 L412.31,326.29 L413.81,325.93 L415.33,325.62 L416.86,325.35 L418.39,325.14 L419.94,324.97 L421.49,324.85 L423.04,324.78 L424.60,324.75 L424.60,308.50 L422.38,308.53 L420.16,308.64 L417.94,308.81 L415.73,309.05 L413.54,309.36 L411.36,309.74 L409.19,310.18 L407.05,310.69 L404.93,311.27 L402.83,311.92 L400.76,312.62 L398.72,313.40 L396.71,314.23 L394.74,315.13 L392.81,316.09 L390.92,317.10 L389.07,318.18 L387.26,319.31 L385.51,320.50 L383.80,321.74 L382.15,323.03 L380.55,324.37Z" fill="#F5ABA2" stroke="#F5ABA2" stroke-width="0.25"/>
<path d="M378.45,322.55 L380.13,321.14 L381.86,319.79 L383.65,318.49 L385.49,317.25 L387.38,316.06 L389.32,314.93 L391.30,313.87 L393.32,312.87 L395.39,311.93 L397.49,311.05 L399.62,310.24 L401.79,309.50 L403.99,308.83 L406.21,308.22 L408.46,307.68 L410.73,307.22 L413.01,306.82 L415.31,306.50 L417.62,306.25 L419.94,306.07 L422.27,305.96 L424.60,305.92 L424.60,300.98 L422.07,301.02 L419.54,301.14 L417.02,301.33 L414.50,301.61 L412.00,301.96 L409.52,302.39 L407.06,302.90 L404.61,303.48 L402.20,304.14 L399.81,304.87 L397.45,305.68 L395.13,306.56 L392.84,307.51 L390.60,308.53 L388.40,309.62 L386.25,310.78 L384.14,312.00 L382.09,313.29 L380.09,314.64 L378.14,316.06 L376.26,317.53 L374.44,319.06Z" fill="#F8F5AC" stroke="#F8F5AC" stroke-width="0.25"/>
<path d="M374.44,319.06 L376.26,317.53 L378.14,316.06 L380.09,314.64 L382.09,313.29 L384.14,312.00 L386.25,310.78 L388.40,309.62 L390.60,308.53 L392.84,307.51 L395.13,306.56 L397.45,305.68 L399.81,304.87 L402.20,304.14 L404.61,303.48 L407.06,302.90 L409.52,302.39 L412.00,301.96 L414.50,301.61 L417.02,301.33 L419.54,301.14 L422.07,301.02 L424.60,300.98 L424.60,296.04 L421.87,296.08 L419.13,296.21 L416.41,296.42 L413.70,296.72 L411.00,297.10 L408.31,297.56 L405.65,298.11 L403.01,298.74 L400.40,299.45 L397.82,300.24 L395.28,301.11 L392.77,302.06 L390.30,303.09 L387.88,304.19 L385.50,305.37 L383.18,306.62 L380.90,307.94 L378.68,309.34 L376.52,310.80 L374.42,312.32 L372.39,313.91 L370.42,315.56Z" fill="#7AABD0" stroke="#7AABD0" stroke-width="0.25"/>
<path d="M370.42,315.56 L372.39,313.91 L374.42,312.32 L376.52,310.80 L378.68,309.34 L380.90,307.94 L383.18,306.62 L385.50,305.37 L387.88,304.19 L390.30,303.09 L392.77,302.06 L395.28,301.11 L397.82,300.24 L400.40,299.45 L403.01,298.74 L405.65,298.11 L408.31,297.56 L411.00,297.10 L413.70,296.72 L416.41,296.42 L419.13,296.21 L421.87,296.08 L424.60,296.04 L424.60,291.10 L421.66,291.15 L418.73,291.28 L415.80,291.51 L412.89,291.83 L409.99,292.24 L407.11,292.74 L404.25,293.32 L401.41,294.00 L398.61,294.76 L395.84,295.61 L393.11,296.55 L390.41,297.57 L387.76,298.67 L385.16,299.86 L382.60,301.12 L380.11,302.47 L377.66,303.89 L375.28,305.38 L372.96,306.95 L370.70,308.59 L368.52,310.30 L366.41,312.07Z" fill="#A9D562" stroke="#A9D562" stroke-width="0.25"/>
<g stroke="#000" stroke-width="1.15" stroke-linecap="round" fill="none">
<line x1="440.03" y1="330.29" x2="433.01" y2="345.04"/>
<line x1="461.86" y1="349.27" x2="444.90" y2="355.38"/>
<line x1="433.01" y1="345.04" x2="435.23" y2="345.97"/>
<line x1="435.23" y1="345.97" x2="437.32" y2="347.11"/>
<line x1="437.32" y1="347.11" x2="439.24" y2="348.45"/>
<line x1="439.24" y1="348.45" x2="440.98" y2="349.96"/>
<line x1="440.98" y1="349.96" x2="442.52" y2="351.64"/>
<line x1="442.52" y1="351.64" x2="443.83" y2="353.45"/>
<line x1="443.83" y1="353.45" x2="444.90" y2="355.38"/>
<line x1="387.34" y1="349.27" x2="404.30" y2="355.38"/>
<line x1="409.17" y1="330.29" x2="416.19" y2="345.04"/>
<line x1="404.30" y1="355.38" x2="405.37" y2="353.45"/>
<line x1="405.37" y1="353.45" x2="406.68" y2="351.64"/>
<line x1="406.68" y1="351.64" x2="408.22" y2="349.96"/>
<line x1="408.22" y1="349.96" x2="409.96" y2="348.45"/>
<line x1="409.96" y1="348.45" x2="411.88" y2="347.11"/>
<line x1="411.88" y1="347.11" x2="413.97" y2="345.97"/>
<line x1="413.97" y1="345.97" x2="416.19" y2="345.04"/>
<line x1="440.03" y1="395.11" x2="433.51" y2="381.42"/>
<line x1="409.17" y1="395.11" x2="415.69" y2="381.42"/>
<line x1="433.51" y1="381.42" x2="431.05" y2="382.17"/>
<line x1="431.05" y1="382.17" x2="428.50" y2="382.68"/>
<line x1="428.50" y1="382.68" x2="425.91" y2="382.93"/>
<line x1="425.91" y1="382.93" x2="423.29" y2="382.93"/>
<line x1="423.29" y1="382.93" x2="420.70" y2="382.68"/>
<line x1="420.70" y1="382.68" x2="418.15" y2="382.17"/>
<line x1="418.15" y1="382.17" x2="415.69" y2="381.42"/>
<line x1="409.06" y1="349.18" x2="415.70" y2="354.95"/>
<line x1="387.34" y1="376.13" x2="412.97" y2="366.89"/>
<line x1="412.97" y1="366.89" x2="412.52" y2="365.79"/>
<line x1="412.52" y1="365.79" x2="412.21" y2="364.65"/>
<line x1="412.21" y1="364.65" x2="412.04" y2="363.48"/>
<line x1="412.04" y1="363.48" x2="412.02" y2="362.31"/>
<line x1="412.02" y1="362.31" x2="412.14" y2="361.14"/>
<line x1="412.14" y1="361.14" x2="412.40" y2="359.99"/>
<line x1="412.40" y1="359.99" x2="412.80" y2="358.87"/>
<line x1="412.80" y1="358.87" x2="413.34" y2="357.80"/>
<line x1="413.34" y1="357.80" x2="414.01" y2="356.78"/>
<line x1="414.01" y1="356.78" x2="414.80" y2="355.83"/>
<line x1="414.80" y1="355.83" x2="415.70" y2="354.95"/>
<line x1="412.25" y1="360.56" x2="414.27" y2="360.91"/>
<line x1="424.60" y1="382.96" x2="424.60" y2="371.86"/>
<line x1="424.60" y1="371.86" x2="423.44" y2="371.81"/>
<line x1="423.44" y1="371.81" x2="422.29" y2="371.64"/>
<line x1="422.29" y1="371.64" x2="421.17" y2="371.37"/>
<line x1="421.17" y1="371.37" x2="420.10" y2="370.98"/>
<line x1="420.10" y1="370.98" x2="419.07" y2="370.50"/>
<line x1="419.07" y1="370.50" x2="418.12" y2="369.93"/>
<line x1="418.12" y1="369.93" x2="417.24" y2="369.26"/>
<line x1="417.24" y1="369.26" x2="416.46" y2="368.51"/>
<line x1="416.46" y1="368.51" x2="415.77" y2="367.70"/>
<line x1="415.77" y1="367.70" x2="415.19" y2="366.82"/>
<line x1="415.19" y1="366.82" x2="414.73" y2="365.89"/>
<line x1="414.73" y1="365.89" x2="414.38" y2="364.93"/>
<line x1="414.38" y1="364.93" x2="414.16" y2="363.93"/>
<line x1="414.16" y1="363.93" x2="414.07" y2="362.92"/>
<line x1="414.07" y1="362.92" x2="414.10" y2="361.91"/>
<line x1="414.10" y1="361.91" x2="414.27" y2="360.91"/>
<line x1="416.46" y1="368.51" x2="418.56" y2="367.02"/>
<line x1="461.86" y1="376.13" x2="431.82" y2="365.30"/>
<line x1="431.82" y1="365.30" x2="431.46" y2="365.97"/>
<line x1="431.46" y1="365.97" x2="431.01" y2="366.60"/>
<line x1="431.01" y1="366.60" x2="430.49" y2="367.18"/>
<line x1="430.49" y1="367.18" x2="429.90" y2="367.70"/>
<line x1="429.90" y1="367.70" x2="429.24" y2="368.17"/>
<line x1="429.24" y1="368.17" x2="428.53" y2="368.58"/>
<line x1="428.53" y1="368.58" x2="427.78" y2="368.91"/>
<line x1="427.78" y1="368.91" x2="426.99" y2="369.18"/>
<line x1="426.99" y1="369.18" x2="426.16" y2="369.36"/>
<line x1="426.16" y1="369.36" x2="425.33" y2="369.47"/>
<line x1="425.33" y1="369.47" x2="424.48" y2="369.50"/>
<line x1="424.48" y1="369.50" x2="423.63" y2="369.45"/>
<line x1="423.63" y1="369.45" x2="422.80" y2="369.32"/>
<line x1="422.80" y1="369.32" x2="421.99" y2="369.11"/>
<line x1="421.99" y1="369.11" x2="421.20" y2="368.83"/>
<line x1="421.20" y1="368.83" x2="420.46" y2="368.47"/>
<line x1="420.46" y1="368.47" x2="419.77" y2="368.05"/>
<line x1="419.77" y1="368.05" x2="419.13" y2="367.56"/>
<line x1="419.13" y1="367.56" x2="418.56" y2="367.02"/>
<line x1="440.14" y1="349.18" x2="425.30" y2="362.09"/>
<line x1="425.75" y1="369.43" x2="424.74" y2="363.55"/>
<line x1="425.30" y1="362.09" x2="425.37" y2="362.16"/>
<line x1="425.37" y1="362.16" x2="425.43" y2="362.23"/>
<line x1="425.43" y1="362.23" x2="425.48" y2="362.31"/>
<line x1="425.48" y1="362.31" x2="425.52" y2="362.39"/>
<line x1="425.52" y1="362.39" x2="425.55" y2="362.48"/>
<line x1="425.55" y1="362.48" x2="425.58" y2="362.57"/>
<line x1="425.58" y1="362.57" x2="425.59" y2="362.66"/>
<line x1="425.59" y1="362.66" x2="425.59" y2="362.75"/>
<line x1="425.59" y1="362.75" x2="425.57" y2="362.84"/>
<line x1="425.57" y1="362.84" x2="425.55" y2="362.93"/>
<line x1="425.55" y1="362.93" x2="425.52" y2="363.01"/>
<line x1="425.52" y1="363.01" x2="425.48" y2="363.09"/>
<line x1="425.48" y1="363.09" x2="425.42" y2="363.17"/>
<line x1="425.42" y1="363.17" x2="425.36" y2="363.25"/>
<line x1="425.36" y1="363.25" x2="425.29" y2="363.31"/>
<line x1="425.29" y1="363.31" x2="425.22" y2="363.37"/>
<line x1="425.22" y1="363.37" x2="425.13" y2="363.42"/>
<line x1="425.13" y1="363.42" x2="425.04" y2="363.47"/>
<line x1="425.04" y1="363.47" x2="424.95" y2="363.50"/>
<line x1="424.95" y1="363.50" x2="424.85" y2="363.53"/>
<line x1="424.85" y1="363.53" x2="424.74" y2="363.55"/>
</g>
<text x="483.40" y="433.70" font-size="6.5" text-anchor="start" font-weight="normal" fill="#222">logFC</text>
<rect x="474.2" y="437.5" width="32.7" height="6.0" fill="url(#gL)"/>
<text x="489.70" y="450.70" font-size="6.5" text-anchor="middle" font-weight="normal" fill="#222">0</text>
<text x="304.70" y="457.50" font-size="7.2" text-anchor="start" font-weight="bold" fill="#000">GO Terms</text>
<rect x="304.8" y="469.90" width="6.4" height="6.4" fill="#86D0C3" stroke="#222" stroke-width="0.7"/>
<text x="314.90" y="474.90" font-size="5.06" text-anchor="start" font-weight="normal" fill="#111">Regulation of cellular component size</text>
<rect x="304.8" y="485.00" width="6.4" height="6.4" fill="#F8F5AC" stroke="#222" stroke-width="0.7"/>
<text x="314.90" y="490.00" font-size="5.06" text-anchor="start" font-weight="normal" fill="#111">Regulation of cell morphogenesis</text>
<rect x="304.8" y="500.10" width="6.4" height="6.4" fill="#B8B6DC" stroke="#222" stroke-width="0.7"/>
<text x="314.90" y="505.10" font-size="5.06" text-anchor="start" font-weight="normal" fill="#111">Regulation of amyloid−beta clearance</text>
<rect x="304.8" y="515.20" width="6.4" height="6.4" fill="#F87C6E" stroke="#222" stroke-width="0.7"/>
<text x="314.90" y="520.20" font-size="5.06" text-anchor="start" font-weight="normal" fill="#111">Positive regulation of cholesterol efflux</text>
<rect x="405.2" y="469.90" width="6.4" height="6.4" fill="#7AABD0" stroke="#222" stroke-width="0.7"/>
<text x="415.30" y="474.90" font-size="5.06" text-anchor="start" font-weight="normal" fill="#111">Regulation of cell shape</text>
<rect x="405.2" y="485.00" width="6.4" height="6.4" fill="#FBB05E" stroke="#222" stroke-width="0.7"/>
<text x="415.30" y="490.00" font-size="5.06" text-anchor="start" font-weight="normal" fill="#111">Positive regulation of cellular protein catabolic process</text>
<rect x="405.2" y="500.10" width="6.4" height="6.4" fill="#A9D562" stroke="#222" stroke-width="0.7"/>
<text x="415.30" y="505.10" font-size="5.06" text-anchor="start" font-weight="normal" fill="#111">Regulation of actin filament−based process</text>
<rect x="405.2" y="515.20" width="6.4" height="6.4" fill="#F9C8E3" stroke="#222" stroke-width="0.7"/>
<text x="415.30" y="520.20" font-size="5.06" text-anchor="start" font-weight="normal" fill="#111">Positive regulation of neuron projection development</text>
</svg></body></html>
